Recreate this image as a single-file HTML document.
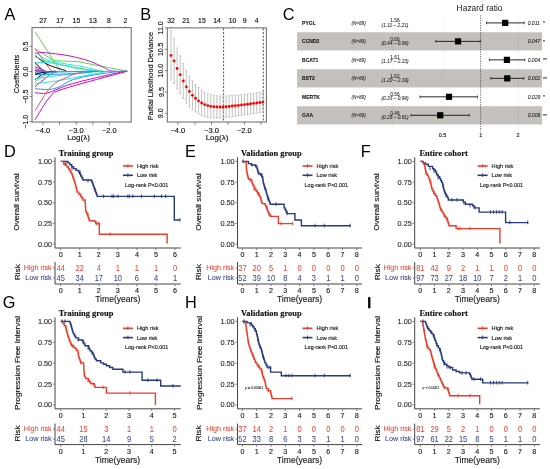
<!DOCTYPE html>
<html><head><meta charset="utf-8"><style>
html,body{margin:0;padding:0;background:#fff;width:550px;height:469px;overflow:hidden;}
svg{display:block;font-family:"Liberation Sans",sans-serif;filter:blur(0.3px);}
</style></head><body><svg width="550" height="469" viewBox="0 0 550 469"><text x="4.45" y="20" font-size="16.3" text-anchor="start" fill="#000" font-weight="normal" font-family="Liberation Sans">A</text><text x="140.3" y="19.9" font-size="16.3" text-anchor="start" fill="#000" font-weight="normal" font-family="Liberation Sans">B</text><text x="282.65" y="20" font-size="16.3" text-anchor="start" fill="#000" font-weight="normal" font-family="Liberation Sans">C</text><path d="M35.01 31.61 L60.06 70.68" stroke="#61D04F" stroke-width="1" fill="none" stroke-linejoin="round"/><path d="M35.01 48.64 L46.03 55.65 L54.04 60.66 L78.09 61.67 L127.19 71.29" stroke="#61D04F" stroke-width="1" fill="none" stroke-linejoin="round"/><path d="M35.01 53.65 L35.6 53.55 L36.27 53.38 L37.07 53.17 L38.01 52.96 L39.15 52.77 L40.5 52.64 L42.12 52.59 L44.02 52.65 L46.34 52.82 L49.07 53.07 L52.12 53.39 L55.36 53.78 L58.69 54.2 L61.99 54.67 L65.16 55.16 L68.07 55.65 L70.81 56.18 L73.5 56.74 L76.14 57.34 L78.72 57.97 L81.21 58.62 L83.62 59.29 L85.92 59.98 L88.11 60.66 L90.19 61.38 L92.18 62.14 L94.08 62.93 L95.88 63.73 L97.58 64.52 L99.2 65.29 L100.72 66.01 L102.14 66.68 L103.44 67.3 L104.61 67.9 L105.67 68.48 L106.65 69.02 L107.56 69.52 L108.43 69.97 L109.29 70.36 L110.16 70.68 L111.04 70.93 L111.94 71.09 L112.82 71.19 L113.66 71.24 L114.44 71.25 L115.14 71.26 L115.72 71.26 L116.17 71.29" stroke="#CD0BBC" stroke-width="1" fill="none" stroke-linejoin="round"/><path d="M35.01 48.64 L51.04 70.68 L52.04 71.29" stroke="#DF536B" stroke-width="1" fill="none" stroke-linejoin="round"/><path d="M35.01 52.65 L36.05 53.28 L37.31 54.14 L38.79 55.16 L40.52 56.28 L42.49 57.45 L44.73 58.61 L47.24 59.7 L50.04 60.66 L53.31 61.52 L57.14 62.34 L61.34 63.13 L65.76 63.88 L70.21 64.61 L74.53 65.32 L78.55 66.01 L82.1 66.68 L85.32 67.35 L88.43 68.04 L91.38 68.71 L94.12 69.36 L96.62 69.96 L98.82 70.49 L100.68 70.94 L102.14 71.29" stroke="#28E2E5" stroke-width="1" fill="none" stroke-linejoin="round"/><path d="M35.01 55.65 L35.98 56.37 L37.23 57.34 L38.72 58.51 L40.39 59.79 L42.21 61.11 L44.12 62.42 L46.08 63.63 L48.03 64.67 L50.17 65.61 L52.61 66.53 L55.22 67.41 L57.86 68.24 L60.41 69 L62.71 69.67 L64.64 70.24 L66.07 70.68" stroke="#000000" stroke-width="1" fill="none" stroke-linejoin="round"/><path d="M35.01 56.66 L36.19 57.11 L37.62 57.71 L39.31 58.43 L41.27 59.22 L43.51 60.08 L46.04 60.95 L48.88 61.83 L52.04 62.67 L55.78 63.53 L60.19 64.48 L65.05 65.46 L70.14 66.45 L75.22 67.4 L80.06 68.29 L84.43 69.06 L88.11 69.68 L91.18 70.15 L93.91 70.5 L96.3 70.75 L98.38 70.92 L100.19 71.04 L101.73 71.12 L103.04 71.2 L104.14 71.29" stroke="#61D04F" stroke-width="1" fill="none" stroke-linejoin="round"/><path d="M35.01 62.67 L36.26 62.66 L37.86 62.62 L39.75 62.56 L41.89 62.52 L44.24 62.52 L46.75 62.59 L49.36 62.77 L52.04 63.07 L54.92 63.54 L58.11 64.18 L61.5 64.92 L65 65.74 L68.51 66.57 L71.93 67.37 L75.16 68.09 L78.09 68.68 L80.85 69.17 L83.59 69.6 L86.24 69.99 L88.74 70.33 L91.04 70.63 L93.08 70.89 L94.79 71.1 L96.13 71.29" stroke="#28E2E5" stroke-width="1" fill="none" stroke-linejoin="round"/><path d="M35.01 62.67 L42.02 69.68 L44.02 71.29" stroke="#000000" stroke-width="1" fill="none" stroke-linejoin="round"/><path d="M35.01 66.68 L46.03 71.29" stroke="#CD0BBC" stroke-width="1" fill="none" stroke-linejoin="round"/><path d="M35.01 68.68 L44.02 71.29" stroke="#2297E6" stroke-width="1" fill="none" stroke-linejoin="round"/><path d="M35.01 79.7 L35.69 79.21 L36.6 78.54 L37.68 77.73 L38.89 76.85 L40.17 75.94 L41.49 75.08 L42.79 74.31 L44.02 73.69 L45.3 73.2 L46.69 72.78 L48.15 72.42 L49.6 72.11 L50.98 71.85 L52.22 71.63 L53.26 71.45 L54.04 71.29" stroke="#000000" stroke-width="1" fill="none" stroke-linejoin="round"/><path d="M35.01 81.71 L35.53 81.32 L36.2 80.82 L36.99 80.21 L37.89 79.54 L38.86 78.82 L39.89 78.09 L40.95 77.38 L42.02 76.7 L43.2 76 L44.55 75.24 L46 74.46 L47.47 73.68 L48.88 72.94 L50.17 72.27 L51.25 71.71 L52.04 71.29" stroke="#61D04F" stroke-width="1" fill="none" stroke-linejoin="round"/><path d="M35.01 86.72 L36.21 85.73 L37.87 84.35 L39.85 82.71 L42.02 80.92 L44.25 79.1 L46.42 77.37 L48.39 75.87 L50.04 74.69 L51.43 73.83 L52.72 73.15 L53.91 72.63 L54.98 72.24 L55.94 71.93 L56.78 71.7 L57.48 71.49 L58.05 71.29" stroke="#CD0BBC" stroke-width="1" fill="none" stroke-linejoin="round"/><path d="M35.01 83.71 L36.76 83.49 L39.08 83.22 L41.83 82.89 L44.9 82.52 L48.18 82.11 L51.54 81.67 L54.87 81.2 L58.05 80.7 L61.18 80.17 L64.4 79.58 L67.69 78.95 L71.02 78.29 L74.35 77.62 L77.66 76.95 L80.92 76.31 L84.1 75.69 L87.37 75.08 L90.82 74.45 L94.33 73.8 L97.76 73.18 L100.98 72.59 L103.88 72.06 L106.31 71.62 L108.15 71.29" stroke="#28E2E5" stroke-width="1" fill="none" stroke-linejoin="round"/><path d="M35.01 88.72 L36.45 88.79 L38.36 88.96 L40.62 89.16 L43.15 89.35 L45.85 89.45 L48.63 89.42 L51.39 89.2 L54.04 88.72 L56.56 87.92 L59.01 86.84 L61.47 85.54 L64 84.11 L66.66 82.63 L69.52 81.19 L72.64 79.85 L76.09 78.7 L80.07 77.69 L84.61 76.72 L89.51 75.79 L94.56 74.93 L99.56 74.14 L104.29 73.43 L108.56 72.81 L112.16 72.29 L115.15 71.9 L117.75 71.63 L120 71.47 L121.93 71.39 L123.58 71.35 L124.98 71.34 L126.17 71.33 L127.19 71.29" stroke="#2297E6" stroke-width="1" fill="none" stroke-linejoin="round"/><path d="M35.01 78.7 L36.67 78.48 L38.75 78.19 L41.21 77.85 L44.02 77.47 L47.15 77.06 L50.55 76.61 L54.2 76.16 L58.05 75.69 L62.52 75.18 L67.81 74.59 L73.6 73.95 L79.53 73.3 L85.29 72.68 L90.53 72.11 L94.92 71.64 L98.13 71.29" stroke="#28E2E5" stroke-width="1" fill="none" stroke-linejoin="round"/><path d="M35.01 92.73 L35.94 92.79 L37.09 92.94 L38.45 93.12 L40.02 93.29 L41.77 93.39 L43.7 93.36 L45.79 93.16 L48.03 92.73 L50.35 92.05 L52.71 91.16 L55.19 90.11 L57.86 88.93 L60.82 87.66 L64.12 86.35 L67.85 85.01 L72.08 83.71 L77.22 82.33 L83.38 80.78 L90.16 79.14 L97.19 77.5 L104.09 75.91 L110.48 74.47 L115.97 73.23 L120.18 72.29 L123.07 71.66 L124.98 71.28 L126.12 71.1 L126.69 71.07 L126.88 71.13 L126.89 71.22 L126.93 71.29 L127.19 71.29" stroke="#CD0BBC" stroke-width="1" fill="none" stroke-linejoin="round"/><path d="M35.01 110.76 L36.24 108.81 L37.86 106.11 L39.8 102.89 L41.96 99.37 L44.25 95.76 L46.58 92.31 L48.88 89.22 L51.04 86.72 L53.13 84.76 L55.25 83.12 L57.4 81.73 L59.56 80.54 L61.71 79.5 L63.86 78.55 L65.98 77.63 L68.07 76.7 L70.23 75.76 L72.53 74.89 L74.86 74.09 L77.15 73.36 L79.31 72.72 L81.25 72.15 L82.87 71.67 L84.1 71.29" stroke="#DF536B" stroke-width="1" fill="none" stroke-linejoin="round"/><path d="M35.01 119.78 L36.17 117.9 L37.73 115.29 L39.59 112.17 L41.64 108.76 L43.81 105.29 L46 101.98 L48.1 99.06 L50.04 96.74 L51.5 95.08 L52.46 93.9 L53.21 93.04 L54.04 92.38 L55.25 91.76 L57.13 91.03 L59.97 90.07 L64.06 88.72 L70.04 86.87 L77.87 84.62 L86.91 82.11 L96.5 79.5 L105.98 76.96 L114.7 74.64 L121.98 72.69 L127.19 71.29" stroke="#CD0BBC" stroke-width="1" fill="none" stroke-linejoin="round"/><path d="M35.01 74.69 L37.94 74.62 L41.93 74.55 L46.68 74.45 L51.91 74.34 L57.36 74.21 L62.72 74.06 L67.72 73.89 L72.08 73.69 L76.04 73.44 L79.98 73.13 L83.8 72.79 L87.42 72.43 L90.76 72.07 L93.71 71.75 L96.2 71.48 L98.13 71.29" stroke="#2297E6" stroke-width="1" fill="none" stroke-linejoin="round"/><path d="M35.01 69.68 L41.02 71.29" stroke="#61D04F" stroke-width="1" fill="none" stroke-linejoin="round"/><path d="M35.01 73.09 L35.98 73.03 L37.07 72.95 L38.35 72.86 L39.89 72.75 L41.76 72.64 L44.02 72.52 L46.76 72.4 L50.04 72.29 L54.29 72.16 L59.64 72.03 L65.69 71.88 L72.02 71.74 L78.23 71.6 L83.92 71.47 L88.69 71.36 L92.12 71.29" stroke="#2297E6" stroke-width="1" fill="none" stroke-linejoin="round"/><path d="M35.01 70.68 L44.02 71.29" stroke="#CD0BBC" stroke-width="1" fill="none" stroke-linejoin="round"/><path d="M35.01 74.29 L35.86 74.09 L37.01 73.82 L38.38 73.49 L39.89 73.13 L41.48 72.76 L43.08 72.42 L44.62 72.12 L46.03 71.89 L47.4 71.72 L48.84 71.6 L50.3 71.5 L51.73 71.44 L53.07 71.39 L54.27 71.35 L55.28 71.32 L56.05 71.29" stroke="#000000" stroke-width="1" fill="none" stroke-linejoin="round"/><path d="M35.01 72.29 L40.02 71.29" stroke="#DF536B" stroke-width="1" fill="none" stroke-linejoin="round"/><path d="M35.01 71.49 L127.19 71.29" stroke="#2297E6" stroke-width="0.7" fill="none"/><rect x="32" y="27.6" width="99.2" height="94.4" fill="none" stroke="#666666" stroke-width="1"/><line x1="43" y1="27.6" x2="43" y2="26.3" stroke="#666666" stroke-width="0.8"/><text x="0" y="0" font-size="7.3" text-anchor="middle" fill="#111" font-weight="normal" font-family="Liberation Sans" transform="translate(43 23.4) scale(0.94 1)" stroke="#111" stroke-width="0.15">27</text><line x1="60" y1="27.6" x2="60" y2="26.3" stroke="#666666" stroke-width="0.8"/><text x="0" y="0" font-size="7.3" text-anchor="middle" fill="#111" font-weight="normal" font-family="Liberation Sans" transform="translate(60 23.4) scale(0.94 1)" stroke="#111" stroke-width="0.15">17</text><line x1="76.4" y1="27.6" x2="76.4" y2="26.3" stroke="#666666" stroke-width="0.8"/><text x="0" y="0" font-size="7.3" text-anchor="middle" fill="#111" font-weight="normal" font-family="Liberation Sans" transform="translate(76.4 23.4) scale(0.94 1)" stroke="#111" stroke-width="0.15">15</text><line x1="92.9" y1="27.6" x2="92.9" y2="26.3" stroke="#666666" stroke-width="0.8"/><text x="0" y="0" font-size="7.3" text-anchor="middle" fill="#111" font-weight="normal" font-family="Liberation Sans" transform="translate(92.9 23.4) scale(0.94 1)" stroke="#111" stroke-width="0.15">13</text><line x1="108.9" y1="27.6" x2="108.9" y2="26.3" stroke="#666666" stroke-width="0.8"/><text x="0" y="0" font-size="7.3" text-anchor="middle" fill="#111" font-weight="normal" font-family="Liberation Sans" transform="translate(108.9 23.4) scale(0.94 1)" stroke="#111" stroke-width="0.15">8</text><line x1="125.4" y1="27.6" x2="125.4" y2="26.3" stroke="#666666" stroke-width="0.8"/><text x="0" y="0" font-size="7.3" text-anchor="middle" fill="#111" font-weight="normal" font-family="Liberation Sans" transform="translate(125.4 23.4) scale(0.94 1)" stroke="#111" stroke-width="0.15">2</text><line x1="32" y1="46.4" x2="29.5" y2="46.4" stroke="#666666" stroke-width="0.8"/><text x="27.6" y="46.4" font-size="7" text-anchor="middle" fill="#111" font-weight="normal" font-family="Liberation Sans" transform="rotate(-90 27.6 46.4)" stroke="#111" stroke-width="0.15">0.5</text><line x1="32" y1="71.5" x2="29.5" y2="71.5" stroke="#666666" stroke-width="0.8"/><text x="27.6" y="71.5" font-size="7" text-anchor="middle" fill="#111" font-weight="normal" font-family="Liberation Sans" transform="rotate(-90 27.6 71.5)" stroke="#111" stroke-width="0.15">0.0</text><line x1="32" y1="96.6" x2="29.5" y2="96.6" stroke="#666666" stroke-width="0.8"/><text x="27.6" y="96.6" font-size="7" text-anchor="middle" fill="#111" font-weight="normal" font-family="Liberation Sans" transform="rotate(-90 27.6 96.6)" stroke="#111" stroke-width="0.15">−0.5</text><line x1="32" y1="121.7" x2="29.5" y2="121.7" stroke="#666666" stroke-width="0.8"/><text x="27.6" y="121.7" font-size="7" text-anchor="middle" fill="#111" font-weight="normal" font-family="Liberation Sans" transform="rotate(-90 27.6 121.7)" stroke="#111" stroke-width="0.15">−1.0</text><line x1="42.9" y1="122" x2="42.9" y2="124.8" stroke="#666666" stroke-width="0.8"/><line x1="59.5" y1="122" x2="59.5" y2="124.8" stroke="#666666" stroke-width="0.8"/><line x1="76.2" y1="122" x2="76.2" y2="124.8" stroke="#666666" stroke-width="0.8"/><line x1="92.8" y1="122" x2="92.8" y2="124.8" stroke="#666666" stroke-width="0.8"/><line x1="109.4" y1="122" x2="109.4" y2="124.8" stroke="#666666" stroke-width="0.8"/><text x="42.9" y="132.7" font-size="7.5" text-anchor="middle" fill="#111" font-weight="normal" font-family="Liberation Sans" stroke="#111" stroke-width="0.15">−4.0</text><text x="76.2" y="132.7" font-size="7.5" text-anchor="middle" fill="#111" font-weight="normal" font-family="Liberation Sans" stroke="#111" stroke-width="0.15">−3.0</text><text x="109.4" y="132.7" font-size="7.5" text-anchor="middle" fill="#111" font-weight="normal" font-family="Liberation Sans" stroke="#111" stroke-width="0.15">−2.0</text><text x="78.5" y="140.3" font-size="8" text-anchor="middle" fill="#111" font-weight="normal" font-family="Liberation Sans" stroke="#111" stroke-width="0.15">Log(λ)</text><text x="18.6" y="74" font-size="7.4" text-anchor="middle" fill="#111" font-weight="normal" font-family="Liberation Sans" transform="rotate(-90 18.6 74)" stroke="#111" stroke-width="0.15">Coefficients</text><rect x="167.3" y="27.9" width="99.1" height="94.1" fill="none" stroke="#666666" stroke-width="1"/><line x1="171" y1="27.9" x2="171" y2="26.9" stroke="#666666" stroke-width="0.7"/><text x="0" y="0" font-size="7.3" text-anchor="middle" fill="#111" font-weight="normal" font-family="Liberation Sans" transform="translate(171 23.4) scale(0.94 1)" stroke="#111" stroke-width="0.15">32</text><line x1="186.1" y1="27.9" x2="186.1" y2="26.9" stroke="#666666" stroke-width="0.7"/><text x="0" y="0" font-size="7.3" text-anchor="middle" fill="#111" font-weight="normal" font-family="Liberation Sans" transform="translate(186.1 23.4) scale(0.94 1)" stroke="#111" stroke-width="0.15">21</text><line x1="201.9" y1="27.9" x2="201.9" y2="26.9" stroke="#666666" stroke-width="0.7"/><text x="0" y="0" font-size="7.3" text-anchor="middle" fill="#111" font-weight="normal" font-family="Liberation Sans" transform="translate(201.9 23.4) scale(0.94 1)" stroke="#111" stroke-width="0.15">15</text><line x1="217.1" y1="27.9" x2="217.1" y2="26.9" stroke="#666666" stroke-width="0.7"/><text x="0" y="0" font-size="7.3" text-anchor="middle" fill="#111" font-weight="normal" font-family="Liberation Sans" transform="translate(217.1 23.4) scale(0.94 1)" stroke="#111" stroke-width="0.15">14</text><line x1="232.6" y1="27.9" x2="232.6" y2="26.9" stroke="#666666" stroke-width="0.7"/><text x="0" y="0" font-size="7.3" text-anchor="middle" fill="#111" font-weight="normal" font-family="Liberation Sans" transform="translate(232.6 23.4) scale(0.94 1)" stroke="#111" stroke-width="0.15">10</text><line x1="244.6" y1="27.9" x2="244.6" y2="26.9" stroke="#666666" stroke-width="0.7"/><text x="0" y="0" font-size="7.3" text-anchor="middle" fill="#111" font-weight="normal" font-family="Liberation Sans" transform="translate(244.6 23.4) scale(0.94 1)" stroke="#111" stroke-width="0.15">9</text><line x1="256.7" y1="27.9" x2="256.7" y2="26.9" stroke="#666666" stroke-width="0.7"/><text x="0" y="0" font-size="7.3" text-anchor="middle" fill="#111" font-weight="normal" font-family="Liberation Sans" transform="translate(256.7 23.4) scale(0.94 1)" stroke="#111" stroke-width="0.15">4</text><line x1="167.3" y1="27.9" x2="164.8" y2="27.9" stroke="#666666" stroke-width="0.8"/><text x="163.5" y="27.9" font-size="7" text-anchor="middle" fill="#111" font-weight="normal" font-family="Liberation Sans" transform="rotate(-90 163.5 27.9)" stroke="#111" stroke-width="0.15">11.0</text><line x1="167.3" y1="49.3" x2="164.8" y2="49.3" stroke="#666666" stroke-width="0.8"/><text x="163.5" y="49.3" font-size="7" text-anchor="middle" fill="#111" font-weight="normal" font-family="Liberation Sans" transform="rotate(-90 163.5 49.3)" stroke="#111" stroke-width="0.15">10.5</text><line x1="167.3" y1="70.6" x2="164.8" y2="70.6" stroke="#666666" stroke-width="0.8"/><text x="163.5" y="70.6" font-size="7" text-anchor="middle" fill="#111" font-weight="normal" font-family="Liberation Sans" transform="rotate(-90 163.5 70.6)" stroke="#111" stroke-width="0.15">10.0</text><line x1="167.3" y1="92" x2="164.8" y2="92" stroke="#666666" stroke-width="0.8"/><text x="163.5" y="92" font-size="7" text-anchor="middle" fill="#111" font-weight="normal" font-family="Liberation Sans" transform="rotate(-90 163.5 92)" stroke="#111" stroke-width="0.15">9.5</text><line x1="167.3" y1="113.3" x2="164.8" y2="113.3" stroke="#666666" stroke-width="0.8"/><text x="163.5" y="113.3" font-size="7" text-anchor="middle" fill="#111" font-weight="normal" font-family="Liberation Sans" transform="rotate(-90 163.5 113.3)" stroke="#111" stroke-width="0.15">9.0</text><line x1="177.9" y1="122" x2="177.9" y2="124.8" stroke="#666666" stroke-width="0.8"/><line x1="195.1" y1="122" x2="195.1" y2="124.8" stroke="#666666" stroke-width="0.8"/><line x1="211.5" y1="122" x2="211.5" y2="124.8" stroke="#666666" stroke-width="0.8"/><line x1="228" y1="122" x2="228" y2="124.8" stroke="#666666" stroke-width="0.8"/><line x1="244.4" y1="122" x2="244.4" y2="124.8" stroke="#666666" stroke-width="0.8"/><line x1="261" y1="122" x2="261" y2="124.8" stroke="#666666" stroke-width="0.8"/><text x="177.9" y="132.7" font-size="7.5" text-anchor="middle" fill="#111" font-weight="normal" font-family="Liberation Sans" stroke="#111" stroke-width="0.15">−4.0</text><text x="211.5" y="132.7" font-size="7.5" text-anchor="middle" fill="#111" font-weight="normal" font-family="Liberation Sans" stroke="#111" stroke-width="0.15">−3.0</text><text x="244.4" y="132.7" font-size="7.5" text-anchor="middle" fill="#111" font-weight="normal" font-family="Liberation Sans" stroke="#111" stroke-width="0.15">−2.0</text><text x="217" y="140.3" font-size="8" text-anchor="middle" fill="#111" font-weight="normal" font-family="Liberation Sans" stroke="#111" stroke-width="0.15">Log(λ)</text><text x="152.6" y="76" font-size="7.3" text-anchor="middle" fill="#111" font-weight="normal" font-family="Liberation Sans" transform="rotate(-90 152.6 76)" stroke="#111" stroke-width="0.15">Partial Likelihood Deviance</text><path d="M223.6 28.4 V121.6" stroke="#222" stroke-width="0.8" fill="none" stroke-dasharray="2 1.6"/><path d="M263.3 28.4 V121.6" stroke="#222" stroke-width="0.8" fill="none" stroke-dasharray="2 1.6"/><line x1="171" y1="30.7" x2="171" y2="80.1" stroke="#b3b3b3" stroke-width="0.8"/><line x1="169.9" y1="30.7" x2="172.1" y2="30.7" stroke="#b3b3b3" stroke-width="0.7"/><line x1="169.9" y1="80.1" x2="172.1" y2="80.1" stroke="#b3b3b3" stroke-width="0.7"/><line x1="174.06" y1="38.57" x2="174.06" y2="83.37" stroke="#b3b3b3" stroke-width="0.8"/><line x1="172.96" y1="38.57" x2="175.16" y2="38.57" stroke="#b3b3b3" stroke-width="0.7"/><line x1="172.96" y1="83.37" x2="175.16" y2="83.37" stroke="#b3b3b3" stroke-width="0.7"/><line x1="177.13" y1="47.99" x2="177.13" y2="88.91" stroke="#b3b3b3" stroke-width="0.8"/><line x1="176.03" y1="47.99" x2="178.23" y2="47.99" stroke="#b3b3b3" stroke-width="0.7"/><line x1="176.03" y1="88.91" x2="178.23" y2="88.91" stroke="#b3b3b3" stroke-width="0.7"/><line x1="180.19" y1="55.85" x2="180.19" y2="93.5" stroke="#b3b3b3" stroke-width="0.8"/><line x1="179.09" y1="55.85" x2="181.29" y2="55.85" stroke="#b3b3b3" stroke-width="0.7"/><line x1="179.09" y1="93.5" x2="181.29" y2="93.5" stroke="#b3b3b3" stroke-width="0.7"/><line x1="183.25" y1="63.56" x2="183.25" y2="98.44" stroke="#b3b3b3" stroke-width="0.8"/><line x1="182.15" y1="63.56" x2="184.35" y2="63.56" stroke="#b3b3b3" stroke-width="0.7"/><line x1="182.15" y1="98.44" x2="184.35" y2="98.44" stroke="#b3b3b3" stroke-width="0.7"/><line x1="186.32" y1="70.56" x2="186.32" y2="103.12" stroke="#b3b3b3" stroke-width="0.8"/><line x1="185.22" y1="70.56" x2="187.42" y2="70.56" stroke="#b3b3b3" stroke-width="0.7"/><line x1="185.22" y1="103.12" x2="187.42" y2="103.12" stroke="#b3b3b3" stroke-width="0.7"/><line x1="189.38" y1="76.27" x2="189.38" y2="106.86" stroke="#b3b3b3" stroke-width="0.8"/><line x1="188.28" y1="76.27" x2="190.48" y2="76.27" stroke="#b3b3b3" stroke-width="0.7"/><line x1="188.28" y1="106.86" x2="190.48" y2="106.86" stroke="#b3b3b3" stroke-width="0.7"/><line x1="192.44" y1="80.88" x2="192.44" y2="109.81" stroke="#b3b3b3" stroke-width="0.8"/><line x1="191.34" y1="80.88" x2="193.54" y2="80.88" stroke="#b3b3b3" stroke-width="0.7"/><line x1="191.34" y1="109.81" x2="193.54" y2="109.81" stroke="#b3b3b3" stroke-width="0.7"/><line x1="195.51" y1="84.54" x2="195.51" y2="112.08" stroke="#b3b3b3" stroke-width="0.8"/><line x1="194.41" y1="84.54" x2="196.61" y2="84.54" stroke="#b3b3b3" stroke-width="0.7"/><line x1="194.41" y1="112.08" x2="196.61" y2="112.08" stroke="#b3b3b3" stroke-width="0.7"/><line x1="198.57" y1="87.71" x2="198.57" y2="114.07" stroke="#b3b3b3" stroke-width="0.8"/><line x1="197.47" y1="87.71" x2="199.67" y2="87.71" stroke="#b3b3b3" stroke-width="0.7"/><line x1="197.47" y1="114.07" x2="199.67" y2="114.07" stroke="#b3b3b3" stroke-width="0.7"/><line x1="201.63" y1="90.34" x2="201.63" y2="115.7" stroke="#b3b3b3" stroke-width="0.8"/><line x1="200.53" y1="90.34" x2="202.73" y2="90.34" stroke="#b3b3b3" stroke-width="0.7"/><line x1="200.53" y1="115.7" x2="202.73" y2="115.7" stroke="#b3b3b3" stroke-width="0.7"/><line x1="204.7" y1="92.37" x2="204.7" y2="116.89" stroke="#b3b3b3" stroke-width="0.8"/><line x1="203.6" y1="92.37" x2="205.8" y2="92.37" stroke="#b3b3b3" stroke-width="0.7"/><line x1="203.6" y1="116.89" x2="205.8" y2="116.89" stroke="#b3b3b3" stroke-width="0.7"/><line x1="207.76" y1="93.71" x2="207.76" y2="117.52" stroke="#b3b3b3" stroke-width="0.8"/><line x1="206.66" y1="93.71" x2="208.86" y2="93.71" stroke="#b3b3b3" stroke-width="0.7"/><line x1="206.66" y1="117.52" x2="208.86" y2="117.52" stroke="#b3b3b3" stroke-width="0.7"/><line x1="210.82" y1="94.72" x2="210.82" y2="117.94" stroke="#b3b3b3" stroke-width="0.8"/><line x1="209.72" y1="94.72" x2="211.92" y2="94.72" stroke="#b3b3b3" stroke-width="0.7"/><line x1="209.72" y1="117.94" x2="211.92" y2="117.94" stroke="#b3b3b3" stroke-width="0.7"/><line x1="213.89" y1="95.39" x2="213.89" y2="118.11" stroke="#b3b3b3" stroke-width="0.8"/><line x1="212.79" y1="95.39" x2="214.99" y2="95.39" stroke="#b3b3b3" stroke-width="0.7"/><line x1="212.79" y1="118.11" x2="214.99" y2="118.11" stroke="#b3b3b3" stroke-width="0.7"/><line x1="216.95" y1="95.81" x2="216.95" y2="118.1" stroke="#b3b3b3" stroke-width="0.8"/><line x1="215.85" y1="95.81" x2="218.05" y2="95.81" stroke="#b3b3b3" stroke-width="0.7"/><line x1="215.85" y1="118.1" x2="218.05" y2="118.1" stroke="#b3b3b3" stroke-width="0.7"/><line x1="220.01" y1="96.08" x2="220.01" y2="118.01" stroke="#b3b3b3" stroke-width="0.8"/><line x1="218.91" y1="96.08" x2="221.11" y2="96.08" stroke="#b3b3b3" stroke-width="0.7"/><line x1="218.91" y1="118.01" x2="221.11" y2="118.01" stroke="#b3b3b3" stroke-width="0.7"/><line x1="223.08" y1="96.18" x2="223.08" y2="117.81" stroke="#b3b3b3" stroke-width="0.8"/><line x1="221.98" y1="96.18" x2="224.18" y2="96.18" stroke="#b3b3b3" stroke-width="0.7"/><line x1="221.98" y1="117.81" x2="224.18" y2="117.81" stroke="#b3b3b3" stroke-width="0.7"/><line x1="226.14" y1="96" x2="226.14" y2="117.37" stroke="#b3b3b3" stroke-width="0.8"/><line x1="225.04" y1="96" x2="227.24" y2="96" stroke="#b3b3b3" stroke-width="0.7"/><line x1="225.04" y1="117.37" x2="227.24" y2="117.37" stroke="#b3b3b3" stroke-width="0.7"/><line x1="229.2" y1="95.8" x2="229.2" y2="116.96" stroke="#b3b3b3" stroke-width="0.8"/><line x1="228.1" y1="95.8" x2="230.3" y2="95.8" stroke="#b3b3b3" stroke-width="0.7"/><line x1="228.1" y1="116.96" x2="230.3" y2="116.96" stroke="#b3b3b3" stroke-width="0.7"/><line x1="232.27" y1="95.56" x2="232.27" y2="116.54" stroke="#b3b3b3" stroke-width="0.8"/><line x1="231.17" y1="95.56" x2="233.37" y2="95.56" stroke="#b3b3b3" stroke-width="0.7"/><line x1="231.17" y1="116.54" x2="233.37" y2="116.54" stroke="#b3b3b3" stroke-width="0.7"/><line x1="235.33" y1="95.3" x2="235.33" y2="116.13" stroke="#b3b3b3" stroke-width="0.8"/><line x1="234.23" y1="95.3" x2="236.43" y2="95.3" stroke="#b3b3b3" stroke-width="0.7"/><line x1="234.23" y1="116.13" x2="236.43" y2="116.13" stroke="#b3b3b3" stroke-width="0.7"/><line x1="238.39" y1="95.03" x2="238.39" y2="115.72" stroke="#b3b3b3" stroke-width="0.8"/><line x1="237.29" y1="95.03" x2="239.49" y2="95.03" stroke="#b3b3b3" stroke-width="0.7"/><line x1="237.29" y1="115.72" x2="239.49" y2="115.72" stroke="#b3b3b3" stroke-width="0.7"/><line x1="241.46" y1="94.72" x2="241.46" y2="115.3" stroke="#b3b3b3" stroke-width="0.8"/><line x1="240.36" y1="94.72" x2="242.56" y2="94.72" stroke="#b3b3b3" stroke-width="0.7"/><line x1="240.36" y1="115.3" x2="242.56" y2="115.3" stroke="#b3b3b3" stroke-width="0.7"/><line x1="244.52" y1="94.36" x2="244.52" y2="114.86" stroke="#b3b3b3" stroke-width="0.8"/><line x1="243.42" y1="94.36" x2="245.62" y2="94.36" stroke="#b3b3b3" stroke-width="0.7"/><line x1="243.42" y1="114.86" x2="245.62" y2="114.86" stroke="#b3b3b3" stroke-width="0.7"/><line x1="247.58" y1="94.01" x2="247.58" y2="114.42" stroke="#b3b3b3" stroke-width="0.8"/><line x1="246.48" y1="94.01" x2="248.68" y2="94.01" stroke="#b3b3b3" stroke-width="0.7"/><line x1="246.48" y1="114.42" x2="248.68" y2="114.42" stroke="#b3b3b3" stroke-width="0.7"/><line x1="250.65" y1="93.63" x2="250.65" y2="113.99" stroke="#b3b3b3" stroke-width="0.8"/><line x1="249.55" y1="93.63" x2="251.75" y2="93.63" stroke="#b3b3b3" stroke-width="0.7"/><line x1="249.55" y1="113.99" x2="251.75" y2="113.99" stroke="#b3b3b3" stroke-width="0.7"/><line x1="253.71" y1="93.23" x2="253.71" y2="113.53" stroke="#b3b3b3" stroke-width="0.8"/><line x1="252.61" y1="93.23" x2="254.81" y2="93.23" stroke="#b3b3b3" stroke-width="0.7"/><line x1="252.61" y1="113.53" x2="254.81" y2="113.53" stroke="#b3b3b3" stroke-width="0.7"/><line x1="256.77" y1="92.83" x2="256.77" y2="113.08" stroke="#b3b3b3" stroke-width="0.8"/><line x1="255.67" y1="92.83" x2="257.87" y2="92.83" stroke="#b3b3b3" stroke-width="0.7"/><line x1="255.67" y1="113.08" x2="257.87" y2="113.08" stroke="#b3b3b3" stroke-width="0.7"/><line x1="259.84" y1="92.42" x2="259.84" y2="112.63" stroke="#b3b3b3" stroke-width="0.8"/><line x1="258.74" y1="92.42" x2="260.94" y2="92.42" stroke="#b3b3b3" stroke-width="0.7"/><line x1="258.74" y1="112.63" x2="260.94" y2="112.63" stroke="#b3b3b3" stroke-width="0.7"/><line x1="262.9" y1="92.01" x2="262.9" y2="112.19" stroke="#b3b3b3" stroke-width="0.8"/><line x1="261.8" y1="92.01" x2="264" y2="92.01" stroke="#b3b3b3" stroke-width="0.7"/><line x1="261.8" y1="112.19" x2="264" y2="112.19" stroke="#b3b3b3" stroke-width="0.7"/><circle cx="171" cy="55.4" r="1.45" fill="#FF0000"/><circle cx="174.06" cy="60.97" r="1.45" fill="#FF0000"/><circle cx="177.13" cy="68.45" r="1.45" fill="#FF0000"/><circle cx="180.19" cy="74.67" r="1.45" fill="#FF0000"/><circle cx="183.25" cy="81" r="1.45" fill="#FF0000"/><circle cx="186.32" cy="86.84" r="1.45" fill="#FF0000"/><circle cx="189.38" cy="91.57" r="1.45" fill="#FF0000"/><circle cx="192.44" cy="95.34" r="1.45" fill="#FF0000"/><circle cx="195.51" cy="98.31" r="1.45" fill="#FF0000"/><circle cx="198.57" cy="100.89" r="1.45" fill="#FF0000"/><circle cx="201.63" cy="103.02" r="1.45" fill="#FF0000"/><circle cx="204.7" cy="104.63" r="1.45" fill="#FF0000"/><circle cx="207.76" cy="105.61" r="1.45" fill="#FF0000"/><circle cx="210.82" cy="106.33" r="1.45" fill="#FF0000"/><circle cx="213.89" cy="106.75" r="1.45" fill="#FF0000"/><circle cx="216.95" cy="106.96" r="1.45" fill="#FF0000"/><circle cx="220.01" cy="107.04" r="1.45" fill="#FF0000"/><circle cx="223.08" cy="106.99" r="1.45" fill="#FF0000"/><circle cx="226.14" cy="106.69" r="1.45" fill="#FF0000"/><circle cx="229.2" cy="106.38" r="1.45" fill="#FF0000"/><circle cx="232.27" cy="106.05" r="1.45" fill="#FF0000"/><circle cx="235.33" cy="105.71" r="1.45" fill="#FF0000"/><circle cx="238.39" cy="105.38" r="1.45" fill="#FF0000"/><circle cx="241.46" cy="105.01" r="1.45" fill="#FF0000"/><circle cx="244.52" cy="104.61" r="1.45" fill="#FF0000"/><circle cx="247.58" cy="104.21" r="1.45" fill="#FF0000"/><circle cx="250.65" cy="103.81" r="1.45" fill="#FF0000"/><circle cx="253.71" cy="103.38" r="1.45" fill="#FF0000"/><circle cx="256.77" cy="102.95" r="1.45" fill="#FF0000"/><circle cx="259.84" cy="102.53" r="1.45" fill="#FF0000"/><circle cx="262.9" cy="102.1" r="1.45" fill="#FF0000"/><rect x="297.1" y="32.28" width="244.9" height="18.2" fill="#c4c0bc" stroke="none" stroke-width="1"/><rect x="297.1" y="69.24" width="244.9" height="18.2" fill="#c4c0bc" stroke="none" stroke-width="1"/><rect x="297.1" y="106.2" width="244.9" height="18.2" fill="#c4c0bc" stroke="none" stroke-width="1"/><line x1="354.3" y1="14" x2="354.3" y2="130.5" stroke="#000" stroke-width="0.5" stroke-opacity="0.07"/><line x1="392.9" y1="14" x2="392.9" y2="130.5" stroke="#000" stroke-width="0.5" stroke-opacity="0.07"/><line x1="443.1" y1="14" x2="443.1" y2="130.5" stroke="#000" stroke-width="0.5" stroke-opacity="0.07"/><line x1="518.4" y1="14" x2="518.4" y2="130.5" stroke="#000" stroke-width="0.5" stroke-opacity="0.07"/><path d="M480.6 15.3 V131.5" stroke="#444" stroke-width="0.8" fill="none" stroke-dasharray="1.2 1.2"/><text x="302.1" y="24.7" font-size="5" text-anchor="start" fill="#111" font-weight="bold" font-family="Liberation Sans" stroke="#111" stroke-width="0.07">PYGL</text><text x="358.6" y="24.6" font-size="4.6" text-anchor="middle" fill="#222" font-weight="normal" font-family="Liberation Sans" font-style="italic" stroke="#222" stroke-width="0.07">(N=89)</text><text x="395" y="22.2" font-size="4.8" text-anchor="middle" fill="#222" font-weight="normal" font-family="Liberation Sans" stroke="#222" stroke-width="0.07">1.56</text><text x="395" y="26.5" font-size="4.8" text-anchor="middle" fill="#222" font-weight="normal" font-family="Liberation Sans" font-style="italic" stroke="#222" stroke-width="0.07">(1.11 – 2.21)</text><line x1="486.52" y1="22.9" x2="524.27" y2="22.9" stroke="#111" stroke-width="0.9"/><line x1="486.52" y1="21.5" x2="486.52" y2="24.3" stroke="#111" stroke-width="0.7"/><line x1="524.27" y1="21.5" x2="524.27" y2="24.3" stroke="#111" stroke-width="0.7"/><rect x="502.08" y="19.8" width="6.2" height="6.2" fill="#000" stroke="none" stroke-width="1"/><text x="527.7" y="24.7" font-size="5" text-anchor="start" fill="#222" font-weight="normal" font-family="Liberation Sans" font-style="italic" stroke="#222" stroke-width="0.07">0.011</text><text x="543" y="25.2" font-size="5" text-anchor="start" fill="#222" font-weight="normal" font-family="Liberation Sans" stroke="#222" stroke-width="0.07">*</text><text x="302.1" y="43.18" font-size="5" text-anchor="start" fill="#111" font-weight="bold" font-family="Liberation Sans" stroke="#111" stroke-width="0.07">CCND2</text><text x="358.6" y="43.08" font-size="4.6" text-anchor="middle" fill="#222" font-weight="normal" font-family="Liberation Sans" font-style="italic" stroke="#222" stroke-width="0.07">(N=89)</text><text x="395" y="40.68" font-size="4.8" text-anchor="middle" fill="#222" font-weight="normal" font-family="Liberation Sans" stroke="#222" stroke-width="0.07">0.66</text><text x="395" y="44.98" font-size="4.8" text-anchor="middle" fill="#222" font-weight="normal" font-family="Liberation Sans" font-style="italic" stroke="#222" stroke-width="0.07">(0.44 – 0.99)</text><line x1="435.79" y1="41.38" x2="480.25" y2="41.38" stroke="#111" stroke-width="0.9"/><line x1="435.79" y1="39.98" x2="435.79" y2="42.78" stroke="#111" stroke-width="0.7"/><line x1="480.25" y1="39.98" x2="480.25" y2="42.78" stroke="#111" stroke-width="0.7"/><rect x="454.92" y="38.28" width="6.2" height="6.2" fill="#000" stroke="none" stroke-width="1"/><text x="527.7" y="43.18" font-size="5" text-anchor="start" fill="#222" font-weight="normal" font-family="Liberation Sans" font-style="italic" stroke="#222" stroke-width="0.07">0.047</text><text x="543" y="43.68" font-size="5" text-anchor="start" fill="#222" font-weight="normal" font-family="Liberation Sans" stroke="#222" stroke-width="0.07">*</text><text x="302.1" y="61.66" font-size="5" text-anchor="start" fill="#111" font-weight="bold" font-family="Liberation Sans" stroke="#111" stroke-width="0.07">BCAT1</text><text x="358.6" y="61.56" font-size="4.6" text-anchor="middle" fill="#222" font-weight="normal" font-family="Liberation Sans" font-style="italic" stroke="#222" stroke-width="0.07">(N=89)</text><text x="395" y="59.16" font-size="4.8" text-anchor="middle" fill="#222" font-weight="normal" font-family="Liberation Sans" stroke="#222" stroke-width="0.07">1.61</text><text x="395" y="63.46" font-size="4.8" text-anchor="middle" fill="#222" font-weight="normal" font-family="Liberation Sans" font-style="italic" stroke="#222" stroke-width="0.07">(1.17 – 2.23)</text><line x1="489.41" y1="59.86" x2="524.77" y2="59.86" stroke="#111" stroke-width="0.9"/><line x1="489.41" y1="58.46" x2="489.41" y2="61.26" stroke="#111" stroke-width="0.7"/><line x1="524.77" y1="58.46" x2="524.77" y2="61.26" stroke="#111" stroke-width="0.7"/><rect x="503.81" y="56.76" width="6.2" height="6.2" fill="#000" stroke="none" stroke-width="1"/><text x="527.7" y="61.66" font-size="5" text-anchor="start" fill="#222" font-weight="normal" font-family="Liberation Sans" font-style="italic" stroke="#222" stroke-width="0.07">0.004</text><text x="543" y="62.16" font-size="5" text-anchor="start" fill="#222" font-weight="normal" font-family="Liberation Sans" stroke="#222" stroke-width="0.07">**</text><text x="302.1" y="80.14" font-size="5" text-anchor="start" fill="#111" font-weight="bold" font-family="Liberation Sans" stroke="#111" stroke-width="0.07">BST2</text><text x="358.6" y="80.04" font-size="4.6" text-anchor="middle" fill="#222" font-weight="normal" font-family="Liberation Sans" font-style="italic" stroke="#222" stroke-width="0.07">(N=89)</text><text x="395" y="77.64" font-size="4.8" text-anchor="middle" fill="#222" font-weight="normal" font-family="Liberation Sans" stroke="#222" stroke-width="0.07">1.62</text><text x="395" y="81.94" font-size="4.8" text-anchor="middle" fill="#222" font-weight="normal" font-family="Liberation Sans" font-style="italic" stroke="#222" stroke-width="0.07">(1.20 – 2.19)</text><line x1="490.8" y1="78.34" x2="523.78" y2="78.34" stroke="#111" stroke-width="0.9"/><line x1="490.8" y1="76.94" x2="490.8" y2="79.74" stroke="#111" stroke-width="0.7"/><line x1="523.78" y1="76.94" x2="523.78" y2="79.74" stroke="#111" stroke-width="0.7"/><rect x="504.15" y="75.24" width="6.2" height="6.2" fill="#000" stroke="none" stroke-width="1"/><text x="527.7" y="80.14" font-size="5" text-anchor="start" fill="#222" font-weight="normal" font-family="Liberation Sans" font-style="italic" stroke="#222" stroke-width="0.07">0.002</text><text x="543" y="80.64" font-size="5" text-anchor="start" fill="#222" font-weight="normal" font-family="Liberation Sans" stroke="#222" stroke-width="0.07">**</text><text x="302.1" y="98.62" font-size="5" text-anchor="start" fill="#111" font-weight="bold" font-family="Liberation Sans" stroke="#111" stroke-width="0.07">MERTK</text><text x="358.6" y="98.52" font-size="4.6" text-anchor="middle" fill="#222" font-weight="normal" font-family="Liberation Sans" font-style="italic" stroke="#222" stroke-width="0.07">(N=89)</text><text x="395" y="96.12" font-size="4.8" text-anchor="middle" fill="#222" font-weight="normal" font-family="Liberation Sans" stroke="#222" stroke-width="0.07">0.56</text><text x="395" y="100.42" font-size="4.8" text-anchor="middle" fill="#222" font-weight="normal" font-family="Liberation Sans" font-style="italic" stroke="#222" stroke-width="0.07">(0.33 – 0.94)</text><line x1="420.02" y1="96.82" x2="477.41" y2="96.82" stroke="#111" stroke-width="0.9"/><line x1="420.02" y1="95.42" x2="420.02" y2="98.22" stroke="#111" stroke-width="0.7"/><line x1="477.41" y1="95.42" x2="477.41" y2="98.22" stroke="#111" stroke-width="0.7"/><rect x="445.91" y="93.72" width="6.2" height="6.2" fill="#000" stroke="none" stroke-width="1"/><text x="527.7" y="98.62" font-size="5" text-anchor="start" fill="#222" font-weight="normal" font-family="Liberation Sans" font-style="italic" stroke="#222" stroke-width="0.07">0.029</text><text x="543" y="99.12" font-size="5" text-anchor="start" fill="#222" font-weight="normal" font-family="Liberation Sans" stroke="#222" stroke-width="0.07">*</text><text x="302.1" y="117.1" font-size="5" text-anchor="start" fill="#111" font-weight="bold" font-family="Liberation Sans" stroke="#111" stroke-width="0.07">GAA</text><text x="358.6" y="117" font-size="4.6" text-anchor="middle" fill="#222" font-weight="normal" font-family="Liberation Sans" font-style="italic" stroke="#222" stroke-width="0.07">(N=89)</text><text x="395" y="114.6" font-size="4.8" text-anchor="middle" fill="#222" font-weight="normal" font-family="Liberation Sans" stroke="#222" stroke-width="0.07">0.46</text><text x="395" y="118.9" font-size="4.8" text-anchor="middle" fill="#222" font-weight="normal" font-family="Liberation Sans" font-style="italic" stroke="#222" stroke-width="0.07">(0.28 – 0.81)</text><line x1="411.01" y1="115.3" x2="469.25" y2="115.3" stroke="#111" stroke-width="0.9"/><line x1="411.01" y1="113.9" x2="411.01" y2="116.7" stroke="#111" stroke-width="0.7"/><line x1="469.25" y1="113.9" x2="469.25" y2="116.7" stroke="#111" stroke-width="0.7"/><rect x="437.1" y="112.2" width="6.2" height="6.2" fill="#000" stroke="none" stroke-width="1"/><text x="527.7" y="117.1" font-size="5" text-anchor="start" fill="#222" font-weight="normal" font-family="Liberation Sans" font-style="italic" stroke="#222" stroke-width="0.07">0.006</text><text x="543" y="117.6" font-size="5" text-anchor="start" fill="#222" font-weight="normal" font-family="Liberation Sans" stroke="#222" stroke-width="0.07">**</text><text x="456.6" y="11" font-size="8.45" text-anchor="start" fill="#1a1a1a" font-weight="normal" font-family="Liberation Sans">Hazard ratio</text><text x="442.5" y="137.1" font-size="5.4" text-anchor="middle" fill="#222" font-weight="normal" font-family="Liberation Sans" stroke="#222" stroke-width="0.15">0.5</text><text x="480.8" y="137.1" font-size="5.4" text-anchor="middle" fill="#222" font-weight="normal" font-family="Liberation Sans" stroke="#222" stroke-width="0.15">1</text><text x="518.1" y="137.1" font-size="5.4" text-anchor="middle" fill="#222" font-weight="normal" font-family="Liberation Sans" stroke="#222" stroke-width="0.15">2</text><text x="58.7" y="155.6" font-size="8.45" text-anchor="start" fill="#111" font-weight="bold" font-family="Liberation Serif" stroke="#111" stroke-width="0.15">Training group</text><line x1="55" y1="157.3" x2="55" y2="248" stroke="#444" stroke-width="1"/><line x1="55" y1="248" x2="180.7" y2="248" stroke="#444" stroke-width="1"/><line x1="55" y1="161.4" x2="52.8" y2="161.4" stroke="#666666" stroke-width="0.8"/><text x="52.1" y="163.8" font-size="7.3" text-anchor="end" fill="#333" font-weight="normal" font-family="Liberation Sans" stroke="#333" stroke-width="0.15">1.00</text><line x1="55" y1="182.1" x2="52.8" y2="182.1" stroke="#666666" stroke-width="0.8"/><text x="52.1" y="184.5" font-size="7.3" text-anchor="end" fill="#333" font-weight="normal" font-family="Liberation Sans" stroke="#333" stroke-width="0.15">0.75</text><line x1="55" y1="202.75" x2="52.8" y2="202.75" stroke="#666666" stroke-width="0.8"/><text x="52.1" y="205.15" font-size="7.3" text-anchor="end" fill="#333" font-weight="normal" font-family="Liberation Sans" stroke="#333" stroke-width="0.15">0.50</text><line x1="55" y1="223.4" x2="52.8" y2="223.4" stroke="#666666" stroke-width="0.8"/><text x="52.1" y="225.8" font-size="7.3" text-anchor="end" fill="#333" font-weight="normal" font-family="Liberation Sans" stroke="#333" stroke-width="0.15">0.25</text><line x1="55" y1="244.1" x2="52.8" y2="244.1" stroke="#666666" stroke-width="0.8"/><text x="52.1" y="246.5" font-size="7.3" text-anchor="end" fill="#333" font-weight="normal" font-family="Liberation Sans" stroke="#333" stroke-width="0.15">0.00</text><line x1="60.7" y1="248" x2="60.7" y2="250.2" stroke="#666666" stroke-width="0.8"/><text x="0" y="0" font-size="7.8" text-anchor="middle" fill="#222" font-weight="normal" font-family="Liberation Sans" transform="translate(60.7 257) scale(0.92 1)" stroke="#222" stroke-width="0.15">0</text><line x1="79.75" y1="248" x2="79.75" y2="250.2" stroke="#666666" stroke-width="0.8"/><text x="0" y="0" font-size="7.8" text-anchor="middle" fill="#222" font-weight="normal" font-family="Liberation Sans" transform="translate(79.75 257) scale(0.92 1)" stroke="#222" stroke-width="0.15">1</text><line x1="98.8" y1="248" x2="98.8" y2="250.2" stroke="#666666" stroke-width="0.8"/><text x="0" y="0" font-size="7.8" text-anchor="middle" fill="#222" font-weight="normal" font-family="Liberation Sans" transform="translate(98.8 257) scale(0.92 1)" stroke="#222" stroke-width="0.15">2</text><line x1="117.85" y1="248" x2="117.85" y2="250.2" stroke="#666666" stroke-width="0.8"/><text x="0" y="0" font-size="7.8" text-anchor="middle" fill="#222" font-weight="normal" font-family="Liberation Sans" transform="translate(117.85 257) scale(0.92 1)" stroke="#222" stroke-width="0.15">3</text><line x1="136.9" y1="248" x2="136.9" y2="250.2" stroke="#666666" stroke-width="0.8"/><text x="0" y="0" font-size="7.8" text-anchor="middle" fill="#222" font-weight="normal" font-family="Liberation Sans" transform="translate(136.9 257) scale(0.92 1)" stroke="#222" stroke-width="0.15">4</text><line x1="155.95" y1="248" x2="155.95" y2="250.2" stroke="#666666" stroke-width="0.8"/><text x="0" y="0" font-size="7.8" text-anchor="middle" fill="#222" font-weight="normal" font-family="Liberation Sans" transform="translate(155.95 257) scale(0.92 1)" stroke="#222" stroke-width="0.15">5</text><line x1="175" y1="248" x2="175" y2="250.2" stroke="#666666" stroke-width="0.8"/><text x="0" y="0" font-size="7.8" text-anchor="middle" fill="#222" font-weight="normal" font-family="Liberation Sans" transform="translate(175 257) scale(0.92 1)" stroke="#222" stroke-width="0.15">6</text><text x="0" y="0" font-size="8.4" text-anchor="middle" fill="#111" font-weight="normal" font-family="Liberation Sans" transform="translate(19.3 202) scale(0.92 1) rotate(-90)" stroke="#111" stroke-width="0.15">Overall survival</text><path d="M60.7 161.4 H67.9 V162.9 H69.8 V164.8 H71.7 V166.7 H73.6 V168.6 H76.1 V170.35 H78.6 V172.1 H79.67 V174.07 H80.75 V176.05 H81.83 V178.03 H82.9 V180 H91.4 V181 H92.15 V183 H92.9 V185 H93.6 V186.9 H94.3 V188.8 H95 V190.7 H95.7 V192.6 H96.4 V194.5 H97.1 V196.4 H174.3 V220 H180" stroke="#27397F" stroke-width="1.4" fill="none" stroke-linejoin="miter"/><path d="M60.7 161.4 H63.6 V163.6 H65.27 V165.27 H66.93 V166.93 H68.6 V168.6 H69.47 V170.2 H70.35 V171.8 H71.22 V173.4 H72.1 V175 H72.68 V176.72 H73.26 V178.44 H73.84 V180.16 H74.42 V181.88 H75 V183.6 H75.42 V185.3 H75.84 V187 H76.26 V188.7 H76.68 V190.4 H77.1 V192.1 H78.9 V194.25 H80.7 V196.4 H81.8 V198.2 H82.9 V200 H85 H85.12 V201.9 H85.23 V203.8 H85.35 V205.7 H85.47 V207.6 H85.58 V209.5 H85.7 V211.4 H86.4 V212.85 H87.1 V214.3 H87.65 V215.9 H88.2 V217.5 H88.75 V219.1 H89.3 V220.7 H94.3 V221.4 H95.7 V223.6 H99.3 V234.3 H167.1 V243.6" stroke="#EC3D2A" stroke-width="1.4" fill="none" stroke-linejoin="miter"/><line x1="66" y1="160.9" x2="66" y2="164.5" stroke="#27397F" stroke-width="0.9"/><line x1="72" y1="166.6" x2="72" y2="170.2" stroke="#27397F" stroke-width="0.9"/><line x1="80" y1="170.1" x2="80" y2="173.7" stroke="#27397F" stroke-width="0.9"/><line x1="88" y1="179" x2="88" y2="182.6" stroke="#27397F" stroke-width="0.9"/><line x1="95" y1="188" x2="95" y2="191.6" stroke="#27397F" stroke-width="0.9"/><line x1="103.6" y1="194.4" x2="103.6" y2="198" stroke="#27397F" stroke-width="0.9"/><line x1="112" y1="194.4" x2="112" y2="198" stroke="#27397F" stroke-width="0.9"/><line x1="113.6" y1="194.4" x2="113.6" y2="198" stroke="#27397F" stroke-width="0.9"/><line x1="117.9" y1="194.4" x2="117.9" y2="198" stroke="#27397F" stroke-width="0.9"/><line x1="127.9" y1="194.4" x2="127.9" y2="198" stroke="#27397F" stroke-width="0.9"/><line x1="129.3" y1="194.4" x2="129.3" y2="198" stroke="#27397F" stroke-width="0.9"/><line x1="132.9" y1="194.4" x2="132.9" y2="198" stroke="#27397F" stroke-width="0.9"/><line x1="141.4" y1="194.4" x2="141.4" y2="198" stroke="#27397F" stroke-width="0.9"/><line x1="154.3" y1="194.4" x2="154.3" y2="198" stroke="#27397F" stroke-width="0.9"/><line x1="161.4" y1="194.4" x2="161.4" y2="198" stroke="#27397F" stroke-width="0.9"/><line x1="165.7" y1="194.4" x2="165.7" y2="198" stroke="#27397F" stroke-width="0.9"/><line x1="180" y1="218" x2="180" y2="221.6" stroke="#27397F" stroke-width="0.9"/><line x1="64" y1="161.6" x2="64" y2="165.2" stroke="#EC3D2A" stroke-width="0.9"/><line x1="87.9" y1="212.3" x2="87.9" y2="215.9" stroke="#EC3D2A" stroke-width="0.9"/><line x1="96.4" y1="221.6" x2="96.4" y2="225.2" stroke="#EC3D2A" stroke-width="0.9"/><line x1="98.6" y1="221.6" x2="98.6" y2="225.2" stroke="#EC3D2A" stroke-width="0.9"/><line x1="110" y1="232.3" x2="110" y2="235.9" stroke="#EC3D2A" stroke-width="0.9"/><line x1="122.9" y1="166" x2="132.9" y2="166" stroke="#EC3D2A" stroke-width="1.6"/><line x1="127.9" y1="164" x2="127.9" y2="167.6" stroke="#EC3D2A" stroke-width="0.9"/><line x1="122.9" y1="175.3" x2="132.9" y2="175.3" stroke="#27397F" stroke-width="1.6"/><line x1="127.9" y1="173.3" x2="127.9" y2="176.9" stroke="#27397F" stroke-width="0.9"/><text x="136.9" y="168" font-size="5.6" text-anchor="start" fill="#222" font-weight="normal" font-family="Liberation Sans" stroke="#222" stroke-width="0.15">High risk</text><text x="136.9" y="177.3" font-size="5.6" text-anchor="start" fill="#222" font-weight="normal" font-family="Liberation Sans" stroke="#222" stroke-width="0.15">Low risk</text><text x="125" y="186.6" font-size="5.45" text-anchor="start" fill="#222" font-weight="normal" font-family="Liberation Sans" stroke="#222" stroke-width="0.15">Log-rank P&lt;0.001</text><line x1="55" y1="262" x2="55" y2="284" stroke="#444" stroke-width="1"/><line x1="55" y1="284" x2="180.7" y2="284" stroke="#444" stroke-width="1"/><line x1="55" y1="268" x2="53" y2="268" stroke="#666666" stroke-width="0.8"/><line x1="55" y1="278" x2="53" y2="278" stroke="#666666" stroke-width="0.8"/><text x="0" y="0" font-size="8" text-anchor="end" fill="#EA4535" font-weight="normal" font-family="Liberation Sans" transform="translate(51.7 270) scale(0.9 1)" stroke="#EA4535" stroke-width="0.08">High risk</text><text x="0" y="0" font-size="8" text-anchor="end" fill="#36498C" font-weight="normal" font-family="Liberation Sans" transform="translate(51.7 280) scale(0.9 1)" stroke="#36498C" stroke-width="0.08">Low risk</text><text x="0" y="0" font-size="8.3" text-anchor="middle" fill="#EA4535" font-weight="normal" font-family="Liberation Sans" transform="translate(60.7 271) scale(0.9 1)" stroke="#EA4535" stroke-width="0.05">44</text><text x="0" y="0" font-size="8.3" text-anchor="middle" fill="#36498C" font-weight="normal" font-family="Liberation Sans" transform="translate(60.7 281) scale(0.9 1)" stroke="#36498C" stroke-width="0.05">45</text><line x1="60.7" y1="284" x2="60.7" y2="286.2" stroke="#666666" stroke-width="0.8"/><text x="0" y="0" font-size="7.8" text-anchor="middle" fill="#222" font-weight="normal" font-family="Liberation Sans" transform="translate(60.7 292.5) scale(0.92 1)" stroke="#222" stroke-width="0.15">0</text><text x="0" y="0" font-size="8.3" text-anchor="middle" fill="#EA4535" font-weight="normal" font-family="Liberation Sans" transform="translate(79.75 271) scale(0.9 1)" stroke="#EA4535" stroke-width="0.05">22</text><text x="0" y="0" font-size="8.3" text-anchor="middle" fill="#36498C" font-weight="normal" font-family="Liberation Sans" transform="translate(79.75 281) scale(0.9 1)" stroke="#36498C" stroke-width="0.05">34</text><line x1="79.75" y1="284" x2="79.75" y2="286.2" stroke="#666666" stroke-width="0.8"/><text x="0" y="0" font-size="7.8" text-anchor="middle" fill="#222" font-weight="normal" font-family="Liberation Sans" transform="translate(79.75 292.5) scale(0.92 1)" stroke="#222" stroke-width="0.15">1</text><text x="0" y="0" font-size="8.3" text-anchor="middle" fill="#EA4535" font-weight="normal" font-family="Liberation Sans" transform="translate(98.8 271) scale(0.9 1)" stroke="#EA4535" stroke-width="0.05">4</text><text x="0" y="0" font-size="8.3" text-anchor="middle" fill="#36498C" font-weight="normal" font-family="Liberation Sans" transform="translate(98.8 281) scale(0.9 1)" stroke="#36498C" stroke-width="0.05">17</text><line x1="98.8" y1="284" x2="98.8" y2="286.2" stroke="#666666" stroke-width="0.8"/><text x="0" y="0" font-size="7.8" text-anchor="middle" fill="#222" font-weight="normal" font-family="Liberation Sans" transform="translate(98.8 292.5) scale(0.92 1)" stroke="#222" stroke-width="0.15">2</text><text x="0" y="0" font-size="8.3" text-anchor="middle" fill="#EA4535" font-weight="normal" font-family="Liberation Sans" transform="translate(117.85 271) scale(0.9 1)" stroke="#EA4535" stroke-width="0.05">1</text><text x="0" y="0" font-size="8.3" text-anchor="middle" fill="#36498C" font-weight="normal" font-family="Liberation Sans" transform="translate(117.85 281) scale(0.9 1)" stroke="#36498C" stroke-width="0.05">10</text><line x1="117.85" y1="284" x2="117.85" y2="286.2" stroke="#666666" stroke-width="0.8"/><text x="0" y="0" font-size="7.8" text-anchor="middle" fill="#222" font-weight="normal" font-family="Liberation Sans" transform="translate(117.85 292.5) scale(0.92 1)" stroke="#222" stroke-width="0.15">3</text><text x="0" y="0" font-size="8.3" text-anchor="middle" fill="#EA4535" font-weight="normal" font-family="Liberation Sans" transform="translate(136.9 271) scale(0.9 1)" stroke="#EA4535" stroke-width="0.05">1</text><text x="0" y="0" font-size="8.3" text-anchor="middle" fill="#36498C" font-weight="normal" font-family="Liberation Sans" transform="translate(136.9 281) scale(0.9 1)" stroke="#36498C" stroke-width="0.05">6</text><line x1="136.9" y1="284" x2="136.9" y2="286.2" stroke="#666666" stroke-width="0.8"/><text x="0" y="0" font-size="7.8" text-anchor="middle" fill="#222" font-weight="normal" font-family="Liberation Sans" transform="translate(136.9 292.5) scale(0.92 1)" stroke="#222" stroke-width="0.15">4</text><text x="0" y="0" font-size="8.3" text-anchor="middle" fill="#EA4535" font-weight="normal" font-family="Liberation Sans" transform="translate(155.95 271) scale(0.9 1)" stroke="#EA4535" stroke-width="0.05">1</text><text x="0" y="0" font-size="8.3" text-anchor="middle" fill="#36498C" font-weight="normal" font-family="Liberation Sans" transform="translate(155.95 281) scale(0.9 1)" stroke="#36498C" stroke-width="0.05">4</text><line x1="155.95" y1="284" x2="155.95" y2="286.2" stroke="#666666" stroke-width="0.8"/><text x="0" y="0" font-size="7.8" text-anchor="middle" fill="#222" font-weight="normal" font-family="Liberation Sans" transform="translate(155.95 292.5) scale(0.92 1)" stroke="#222" stroke-width="0.15">5</text><text x="0" y="0" font-size="8.3" text-anchor="middle" fill="#EA4535" font-weight="normal" font-family="Liberation Sans" transform="translate(175 271) scale(0.9 1)" stroke="#EA4535" stroke-width="0.05">0</text><text x="0" y="0" font-size="8.3" text-anchor="middle" fill="#36498C" font-weight="normal" font-family="Liberation Sans" transform="translate(175 281) scale(0.9 1)" stroke="#36498C" stroke-width="0.05">1</text><line x1="175" y1="284" x2="175" y2="286.2" stroke="#666666" stroke-width="0.8"/><text x="0" y="0" font-size="7.8" text-anchor="middle" fill="#222" font-weight="normal" font-family="Liberation Sans" transform="translate(175 292.5) scale(0.92 1)" stroke="#222" stroke-width="0.15">6</text><text x="0" y="0" font-size="8.3" text-anchor="middle" fill="#111" font-weight="normal" font-family="Liberation Sans" transform="translate(19.6 272.2) scale(0.93 1) rotate(-90)" stroke="#111" stroke-width="0.15">Risk</text><text x="117.85" y="301.8" font-size="8.55" text-anchor="middle" fill="#222" font-weight="normal" font-family="Liberation Sans" stroke="#222" stroke-width="0.15">Time(years)</text><text x="241" y="155.6" font-size="8.45" text-anchor="start" fill="#111" font-weight="bold" font-family="Liberation Serif" stroke="#111" stroke-width="0.15">Validation group</text><line x1="237.5" y1="157.3" x2="237.5" y2="248" stroke="#444" stroke-width="1"/><line x1="237.5" y1="248" x2="362.1" y2="248" stroke="#444" stroke-width="1"/><line x1="237.5" y1="161.4" x2="235.3" y2="161.4" stroke="#666666" stroke-width="0.8"/><text x="234.6" y="163.8" font-size="7.3" text-anchor="end" fill="#333" font-weight="normal" font-family="Liberation Sans" stroke="#333" stroke-width="0.15">1.00</text><line x1="237.5" y1="182.1" x2="235.3" y2="182.1" stroke="#666666" stroke-width="0.8"/><text x="234.6" y="184.5" font-size="7.3" text-anchor="end" fill="#333" font-weight="normal" font-family="Liberation Sans" stroke="#333" stroke-width="0.15">0.75</text><line x1="237.5" y1="202.75" x2="235.3" y2="202.75" stroke="#666666" stroke-width="0.8"/><text x="234.6" y="205.15" font-size="7.3" text-anchor="end" fill="#333" font-weight="normal" font-family="Liberation Sans" stroke="#333" stroke-width="0.15">0.50</text><line x1="237.5" y1="223.4" x2="235.3" y2="223.4" stroke="#666666" stroke-width="0.8"/><text x="234.6" y="225.8" font-size="7.3" text-anchor="end" fill="#333" font-weight="normal" font-family="Liberation Sans" stroke="#333" stroke-width="0.15">0.25</text><line x1="237.5" y1="244.1" x2="235.3" y2="244.1" stroke="#666666" stroke-width="0.8"/><text x="234.6" y="246.5" font-size="7.3" text-anchor="end" fill="#333" font-weight="normal" font-family="Liberation Sans" stroke="#333" stroke-width="0.15">0.00</text><line x1="242.4" y1="248" x2="242.4" y2="250.2" stroke="#666666" stroke-width="0.8"/><text x="0" y="0" font-size="7.8" text-anchor="middle" fill="#222" font-weight="normal" font-family="Liberation Sans" transform="translate(242.4 257) scale(0.92 1)" stroke="#222" stroke-width="0.15">0</text><line x1="256.7" y1="248" x2="256.7" y2="250.2" stroke="#666666" stroke-width="0.8"/><text x="0" y="0" font-size="7.8" text-anchor="middle" fill="#222" font-weight="normal" font-family="Liberation Sans" transform="translate(256.7 257) scale(0.92 1)" stroke="#222" stroke-width="0.15">1</text><line x1="271" y1="248" x2="271" y2="250.2" stroke="#666666" stroke-width="0.8"/><text x="0" y="0" font-size="7.8" text-anchor="middle" fill="#222" font-weight="normal" font-family="Liberation Sans" transform="translate(271 257) scale(0.92 1)" stroke="#222" stroke-width="0.15">2</text><line x1="285.3" y1="248" x2="285.3" y2="250.2" stroke="#666666" stroke-width="0.8"/><text x="0" y="0" font-size="7.8" text-anchor="middle" fill="#222" font-weight="normal" font-family="Liberation Sans" transform="translate(285.3 257) scale(0.92 1)" stroke="#222" stroke-width="0.15">3</text><line x1="299.6" y1="248" x2="299.6" y2="250.2" stroke="#666666" stroke-width="0.8"/><text x="0" y="0" font-size="7.8" text-anchor="middle" fill="#222" font-weight="normal" font-family="Liberation Sans" transform="translate(299.6 257) scale(0.92 1)" stroke="#222" stroke-width="0.15">4</text><line x1="313.9" y1="248" x2="313.9" y2="250.2" stroke="#666666" stroke-width="0.8"/><text x="0" y="0" font-size="7.8" text-anchor="middle" fill="#222" font-weight="normal" font-family="Liberation Sans" transform="translate(313.9 257) scale(0.92 1)" stroke="#222" stroke-width="0.15">5</text><line x1="328.2" y1="248" x2="328.2" y2="250.2" stroke="#666666" stroke-width="0.8"/><text x="0" y="0" font-size="7.8" text-anchor="middle" fill="#222" font-weight="normal" font-family="Liberation Sans" transform="translate(328.2 257) scale(0.92 1)" stroke="#222" stroke-width="0.15">6</text><line x1="342.5" y1="248" x2="342.5" y2="250.2" stroke="#666666" stroke-width="0.8"/><text x="0" y="0" font-size="7.8" text-anchor="middle" fill="#222" font-weight="normal" font-family="Liberation Sans" transform="translate(342.5 257) scale(0.92 1)" stroke="#222" stroke-width="0.15">7</text><line x1="356.8" y1="248" x2="356.8" y2="250.2" stroke="#666666" stroke-width="0.8"/><text x="0" y="0" font-size="7.8" text-anchor="middle" fill="#222" font-weight="normal" font-family="Liberation Sans" transform="translate(356.8 257) scale(0.92 1)" stroke="#222" stroke-width="0.15">8</text><text x="0" y="0" font-size="8.4" text-anchor="middle" fill="#111" font-weight="normal" font-family="Liberation Sans" transform="translate(200.9 202) scale(0.92 1) rotate(-90)" stroke="#111" stroke-width="0.15">Overall survival</text><path d="M242.4 161.4 H247 H248.4 V163.6 H251.3 V165 H255.6 V166.4 H257 V168.6 H257.47 V170.27 H257.93 V171.93 H258.4 V173.6 H260.6 V175 H261.65 V176.8 H262.7 V178.6 H262.93 V180.27 H263.17 V181.93 H263.4 V183.6 H263.9 V185.27 H264.4 V186.93 H264.9 V188.6 H265.6 V190 H266.07 V191.9 H266.53 V193.8 H267 V195.7 H267.7 V197.5 H268.4 V199.3 H268.97 V200.97 H269.53 V202.63 H270.1 V204.3 H284.1 V207.9 H285.07 V209.8 H286.03 V211.7 H287 V213.6 H294.9 V214.3 V220 H301.4 V225.7 H350.7" stroke="#27397F" stroke-width="1.4" fill="none" stroke-linejoin="miter"/><path d="M242.4 161.4 H243.4 V162.1 H246.3 V169.3 H246.63 V171.2 H246.97 V173.1 H247.3 V175 H247.85 V177.15 H248.4 V179.3 H251.3 V180.7 H252 V182.85 H252.7 V185 H253.8 V187.15 H254.9 V189.3 H256.07 V190.97 H257.23 V192.63 H258.4 V194.3 H259.5 V196.45 H260.6 V198.6 H261.07 V200.27 H261.53 V201.93 H262 V203.6 H264.9 V204.3 H265.6 V206.1 H266.3 V207.9 H267 V209.65 H267.7 V211.4 H268.4 V213.2 H269.1 V215 H270.6 V216.4 H278.4 V223.6 H292.7" stroke="#EC3D2A" stroke-width="1.4" fill="none" stroke-linejoin="miter"/><line x1="243" y1="159.4" x2="243" y2="163" stroke="#27397F" stroke-width="0.9"/><line x1="252" y1="163" x2="252" y2="166.6" stroke="#27397F" stroke-width="0.9"/><line x1="256" y1="164.4" x2="256" y2="168" stroke="#27397F" stroke-width="0.9"/><line x1="259" y1="171.6" x2="259" y2="175.2" stroke="#27397F" stroke-width="0.9"/><line x1="262" y1="173" x2="262" y2="176.6" stroke="#27397F" stroke-width="0.9"/><line x1="265" y1="186.6" x2="265" y2="190.2" stroke="#27397F" stroke-width="0.9"/><line x1="268" y1="197.3" x2="268" y2="200.9" stroke="#27397F" stroke-width="0.9"/><line x1="276" y1="202.3" x2="276" y2="205.9" stroke="#27397F" stroke-width="0.9"/><line x1="287" y1="211.6" x2="287" y2="215.2" stroke="#27397F" stroke-width="0.9"/><line x1="315" y1="223.7" x2="315" y2="227.3" stroke="#27397F" stroke-width="0.9"/><line x1="324.3" y1="223.7" x2="324.3" y2="227.3" stroke="#27397F" stroke-width="0.9"/><line x1="350" y1="223.7" x2="350" y2="227.3" stroke="#27397F" stroke-width="0.9"/><line x1="250" y1="178.7" x2="250" y2="182.3" stroke="#EC3D2A" stroke-width="0.9"/><line x1="254" y1="187.3" x2="254" y2="190.9" stroke="#EC3D2A" stroke-width="0.9"/><line x1="258" y1="192.3" x2="258" y2="195.9" stroke="#EC3D2A" stroke-width="0.9"/><line x1="267" y1="205.9" x2="267" y2="209.5" stroke="#EC3D2A" stroke-width="0.9"/><line x1="270" y1="213" x2="270" y2="216.6" stroke="#EC3D2A" stroke-width="0.9"/><line x1="281" y1="221.6" x2="281" y2="225.2" stroke="#EC3D2A" stroke-width="0.9"/><line x1="292.7" y1="221.6" x2="292.7" y2="225.2" stroke="#EC3D2A" stroke-width="0.9"/><line x1="302.5" y1="166" x2="312.5" y2="166" stroke="#EC3D2A" stroke-width="1.6"/><line x1="307.5" y1="164" x2="307.5" y2="167.6" stroke="#EC3D2A" stroke-width="0.9"/><line x1="302.5" y1="175.3" x2="312.5" y2="175.3" stroke="#27397F" stroke-width="1.6"/><line x1="307.5" y1="173.3" x2="307.5" y2="176.9" stroke="#27397F" stroke-width="0.9"/><text x="316.5" y="168" font-size="5.6" text-anchor="start" fill="#222" font-weight="normal" font-family="Liberation Sans" stroke="#222" stroke-width="0.15">High risk</text><text x="316.5" y="177.3" font-size="5.6" text-anchor="start" fill="#222" font-weight="normal" font-family="Liberation Sans" stroke="#222" stroke-width="0.15">Low risk</text><text x="304.6" y="186.6" font-size="5.45" text-anchor="start" fill="#222" font-weight="normal" font-family="Liberation Sans" stroke="#222" stroke-width="0.15">Log-rank P&lt;0.001</text><line x1="237.5" y1="262" x2="237.5" y2="284" stroke="#444" stroke-width="1"/><line x1="237.5" y1="284" x2="362.1" y2="284" stroke="#444" stroke-width="1"/><line x1="237.5" y1="268" x2="235.5" y2="268" stroke="#666666" stroke-width="0.8"/><line x1="237.5" y1="278" x2="235.5" y2="278" stroke="#666666" stroke-width="0.8"/><text x="0" y="0" font-size="8" text-anchor="end" fill="#EA4535" font-weight="normal" font-family="Liberation Sans" transform="translate(234.2 270) scale(0.9 1)" stroke="#EA4535" stroke-width="0.08">High risk</text><text x="0" y="0" font-size="8" text-anchor="end" fill="#36498C" font-weight="normal" font-family="Liberation Sans" transform="translate(234.2 280) scale(0.9 1)" stroke="#36498C" stroke-width="0.08">Low risk</text><text x="0" y="0" font-size="8.3" text-anchor="middle" fill="#EA4535" font-weight="normal" font-family="Liberation Sans" transform="translate(242.4 271) scale(0.9 1)" stroke="#EA4535" stroke-width="0.05">37</text><text x="0" y="0" font-size="8.3" text-anchor="middle" fill="#36498C" font-weight="normal" font-family="Liberation Sans" transform="translate(242.4 281) scale(0.9 1)" stroke="#36498C" stroke-width="0.05">52</text><line x1="242.4" y1="284" x2="242.4" y2="286.2" stroke="#666666" stroke-width="0.8"/><text x="0" y="0" font-size="7.8" text-anchor="middle" fill="#222" font-weight="normal" font-family="Liberation Sans" transform="translate(242.4 292.5) scale(0.92 1)" stroke="#222" stroke-width="0.15">0</text><text x="0" y="0" font-size="8.3" text-anchor="middle" fill="#EA4535" font-weight="normal" font-family="Liberation Sans" transform="translate(256.7 271) scale(0.9 1)" stroke="#EA4535" stroke-width="0.05">20</text><text x="0" y="0" font-size="8.3" text-anchor="middle" fill="#36498C" font-weight="normal" font-family="Liberation Sans" transform="translate(256.7 281) scale(0.9 1)" stroke="#36498C" stroke-width="0.05">39</text><line x1="256.7" y1="284" x2="256.7" y2="286.2" stroke="#666666" stroke-width="0.8"/><text x="0" y="0" font-size="7.8" text-anchor="middle" fill="#222" font-weight="normal" font-family="Liberation Sans" transform="translate(256.7 292.5) scale(0.92 1)" stroke="#222" stroke-width="0.15">1</text><text x="0" y="0" font-size="8.3" text-anchor="middle" fill="#EA4535" font-weight="normal" font-family="Liberation Sans" transform="translate(271 271) scale(0.9 1)" stroke="#EA4535" stroke-width="0.05">5</text><text x="0" y="0" font-size="8.3" text-anchor="middle" fill="#36498C" font-weight="normal" font-family="Liberation Sans" transform="translate(271 281) scale(0.9 1)" stroke="#36498C" stroke-width="0.05">10</text><line x1="271" y1="284" x2="271" y2="286.2" stroke="#666666" stroke-width="0.8"/><text x="0" y="0" font-size="7.8" text-anchor="middle" fill="#222" font-weight="normal" font-family="Liberation Sans" transform="translate(271 292.5) scale(0.92 1)" stroke="#222" stroke-width="0.15">2</text><text x="0" y="0" font-size="8.3" text-anchor="middle" fill="#EA4535" font-weight="normal" font-family="Liberation Sans" transform="translate(285.3 271) scale(0.9 1)" stroke="#EA4535" stroke-width="0.05">1</text><text x="0" y="0" font-size="8.3" text-anchor="middle" fill="#36498C" font-weight="normal" font-family="Liberation Sans" transform="translate(285.3 281) scale(0.9 1)" stroke="#36498C" stroke-width="0.05">8</text><line x1="285.3" y1="284" x2="285.3" y2="286.2" stroke="#666666" stroke-width="0.8"/><text x="0" y="0" font-size="7.8" text-anchor="middle" fill="#222" font-weight="normal" font-family="Liberation Sans" transform="translate(285.3 292.5) scale(0.92 1)" stroke="#222" stroke-width="0.15">3</text><text x="0" y="0" font-size="8.3" text-anchor="middle" fill="#EA4535" font-weight="normal" font-family="Liberation Sans" transform="translate(299.6 271) scale(0.9 1)" stroke="#EA4535" stroke-width="0.05">0</text><text x="0" y="0" font-size="8.3" text-anchor="middle" fill="#36498C" font-weight="normal" font-family="Liberation Sans" transform="translate(299.6 281) scale(0.9 1)" stroke="#36498C" stroke-width="0.05">4</text><line x1="299.6" y1="284" x2="299.6" y2="286.2" stroke="#666666" stroke-width="0.8"/><text x="0" y="0" font-size="7.8" text-anchor="middle" fill="#222" font-weight="normal" font-family="Liberation Sans" transform="translate(299.6 292.5) scale(0.92 1)" stroke="#222" stroke-width="0.15">4</text><text x="0" y="0" font-size="8.3" text-anchor="middle" fill="#EA4535" font-weight="normal" font-family="Liberation Sans" transform="translate(313.9 271) scale(0.9 1)" stroke="#EA4535" stroke-width="0.05">0</text><text x="0" y="0" font-size="8.3" text-anchor="middle" fill="#36498C" font-weight="normal" font-family="Liberation Sans" transform="translate(313.9 281) scale(0.9 1)" stroke="#36498C" stroke-width="0.05">3</text><line x1="313.9" y1="284" x2="313.9" y2="286.2" stroke="#666666" stroke-width="0.8"/><text x="0" y="0" font-size="7.8" text-anchor="middle" fill="#222" font-weight="normal" font-family="Liberation Sans" transform="translate(313.9 292.5) scale(0.92 1)" stroke="#222" stroke-width="0.15">5</text><text x="0" y="0" font-size="8.3" text-anchor="middle" fill="#EA4535" font-weight="normal" font-family="Liberation Sans" transform="translate(328.2 271) scale(0.9 1)" stroke="#EA4535" stroke-width="0.05">0</text><text x="0" y="0" font-size="8.3" text-anchor="middle" fill="#36498C" font-weight="normal" font-family="Liberation Sans" transform="translate(328.2 281) scale(0.9 1)" stroke="#36498C" stroke-width="0.05">1</text><line x1="328.2" y1="284" x2="328.2" y2="286.2" stroke="#666666" stroke-width="0.8"/><text x="0" y="0" font-size="7.8" text-anchor="middle" fill="#222" font-weight="normal" font-family="Liberation Sans" transform="translate(328.2 292.5) scale(0.92 1)" stroke="#222" stroke-width="0.15">6</text><text x="0" y="0" font-size="8.3" text-anchor="middle" fill="#EA4535" font-weight="normal" font-family="Liberation Sans" transform="translate(342.5 271) scale(0.9 1)" stroke="#EA4535" stroke-width="0.05">0</text><text x="0" y="0" font-size="8.3" text-anchor="middle" fill="#36498C" font-weight="normal" font-family="Liberation Sans" transform="translate(342.5 281) scale(0.9 1)" stroke="#36498C" stroke-width="0.05">1</text><line x1="342.5" y1="284" x2="342.5" y2="286.2" stroke="#666666" stroke-width="0.8"/><text x="0" y="0" font-size="7.8" text-anchor="middle" fill="#222" font-weight="normal" font-family="Liberation Sans" transform="translate(342.5 292.5) scale(0.92 1)" stroke="#222" stroke-width="0.15">7</text><text x="0" y="0" font-size="8.3" text-anchor="middle" fill="#EA4535" font-weight="normal" font-family="Liberation Sans" transform="translate(356.8 271) scale(0.9 1)" stroke="#EA4535" stroke-width="0.05">0</text><text x="0" y="0" font-size="8.3" text-anchor="middle" fill="#36498C" font-weight="normal" font-family="Liberation Sans" transform="translate(356.8 281) scale(0.9 1)" stroke="#36498C" stroke-width="0.05">0</text><line x1="356.8" y1="284" x2="356.8" y2="286.2" stroke="#666666" stroke-width="0.8"/><text x="0" y="0" font-size="7.8" text-anchor="middle" fill="#222" font-weight="normal" font-family="Liberation Sans" transform="translate(356.8 292.5) scale(0.92 1)" stroke="#222" stroke-width="0.15">8</text><text x="0" y="0" font-size="8.3" text-anchor="middle" fill="#111" font-weight="normal" font-family="Liberation Sans" transform="translate(201.4 272.2) scale(0.93 1) rotate(-90)" stroke="#111" stroke-width="0.15">Risk</text><text x="299.6" y="301.8" font-size="8.55" text-anchor="middle" fill="#222" font-weight="normal" font-family="Liberation Sans" stroke="#222" stroke-width="0.15">Time(years)</text><text x="419.4" y="155.6" font-size="8.45" text-anchor="start" fill="#111" font-weight="bold" font-family="Liberation Serif" stroke="#111" stroke-width="0.15">Entire cohort</text><line x1="414.7" y1="157.3" x2="414.7" y2="248" stroke="#444" stroke-width="1"/><line x1="414.7" y1="248" x2="539.9" y2="248" stroke="#444" stroke-width="1"/><line x1="414.7" y1="161.4" x2="412.5" y2="161.4" stroke="#666666" stroke-width="0.8"/><text x="411.8" y="163.8" font-size="7.3" text-anchor="end" fill="#333" font-weight="normal" font-family="Liberation Sans" stroke="#333" stroke-width="0.15">1.00</text><line x1="414.7" y1="182.1" x2="412.5" y2="182.1" stroke="#666666" stroke-width="0.8"/><text x="411.8" y="184.5" font-size="7.3" text-anchor="end" fill="#333" font-weight="normal" font-family="Liberation Sans" stroke="#333" stroke-width="0.15">0.75</text><line x1="414.7" y1="202.75" x2="412.5" y2="202.75" stroke="#666666" stroke-width="0.8"/><text x="411.8" y="205.15" font-size="7.3" text-anchor="end" fill="#333" font-weight="normal" font-family="Liberation Sans" stroke="#333" stroke-width="0.15">0.50</text><line x1="414.7" y1="223.4" x2="412.5" y2="223.4" stroke="#666666" stroke-width="0.8"/><text x="411.8" y="225.8" font-size="7.3" text-anchor="end" fill="#333" font-weight="normal" font-family="Liberation Sans" stroke="#333" stroke-width="0.15">0.25</text><line x1="414.7" y1="244.1" x2="412.5" y2="244.1" stroke="#666666" stroke-width="0.8"/><text x="411.8" y="246.5" font-size="7.3" text-anchor="end" fill="#333" font-weight="normal" font-family="Liberation Sans" stroke="#333" stroke-width="0.15">0.00</text><line x1="420.3" y1="248" x2="420.3" y2="250.2" stroke="#666666" stroke-width="0.8"/><text x="0" y="0" font-size="7.8" text-anchor="middle" fill="#222" font-weight="normal" font-family="Liberation Sans" transform="translate(420.3 257) scale(0.92 1)" stroke="#222" stroke-width="0.15">0</text><line x1="434.55" y1="248" x2="434.55" y2="250.2" stroke="#666666" stroke-width="0.8"/><text x="0" y="0" font-size="7.8" text-anchor="middle" fill="#222" font-weight="normal" font-family="Liberation Sans" transform="translate(434.55 257) scale(0.92 1)" stroke="#222" stroke-width="0.15">1</text><line x1="448.8" y1="248" x2="448.8" y2="250.2" stroke="#666666" stroke-width="0.8"/><text x="0" y="0" font-size="7.8" text-anchor="middle" fill="#222" font-weight="normal" font-family="Liberation Sans" transform="translate(448.8 257) scale(0.92 1)" stroke="#222" stroke-width="0.15">2</text><line x1="463.05" y1="248" x2="463.05" y2="250.2" stroke="#666666" stroke-width="0.8"/><text x="0" y="0" font-size="7.8" text-anchor="middle" fill="#222" font-weight="normal" font-family="Liberation Sans" transform="translate(463.05 257) scale(0.92 1)" stroke="#222" stroke-width="0.15">3</text><line x1="477.3" y1="248" x2="477.3" y2="250.2" stroke="#666666" stroke-width="0.8"/><text x="0" y="0" font-size="7.8" text-anchor="middle" fill="#222" font-weight="normal" font-family="Liberation Sans" transform="translate(477.3 257) scale(0.92 1)" stroke="#222" stroke-width="0.15">4</text><line x1="491.55" y1="248" x2="491.55" y2="250.2" stroke="#666666" stroke-width="0.8"/><text x="0" y="0" font-size="7.8" text-anchor="middle" fill="#222" font-weight="normal" font-family="Liberation Sans" transform="translate(491.55 257) scale(0.92 1)" stroke="#222" stroke-width="0.15">5</text><line x1="505.8" y1="248" x2="505.8" y2="250.2" stroke="#666666" stroke-width="0.8"/><text x="0" y="0" font-size="7.8" text-anchor="middle" fill="#222" font-weight="normal" font-family="Liberation Sans" transform="translate(505.8 257) scale(0.92 1)" stroke="#222" stroke-width="0.15">6</text><line x1="520.05" y1="248" x2="520.05" y2="250.2" stroke="#666666" stroke-width="0.8"/><text x="0" y="0" font-size="7.8" text-anchor="middle" fill="#222" font-weight="normal" font-family="Liberation Sans" transform="translate(520.05 257) scale(0.92 1)" stroke="#222" stroke-width="0.15">7</text><line x1="534.3" y1="248" x2="534.3" y2="250.2" stroke="#666666" stroke-width="0.8"/><text x="0" y="0" font-size="7.8" text-anchor="middle" fill="#222" font-weight="normal" font-family="Liberation Sans" transform="translate(534.3 257) scale(0.92 1)" stroke="#222" stroke-width="0.15">8</text><text x="0" y="0" font-size="8.4" text-anchor="middle" fill="#111" font-weight="normal" font-family="Liberation Sans" transform="translate(379.4 202) scale(0.92 1) rotate(-90)" stroke="#111" stroke-width="0.15">Overall survival</text><path d="M420.3 161.4 H422.85 V162.85 H425.4 V164.3 H428.3 V166.4 H432.6 V168.6 H434 V170 H435.4 V171.4 H436.15 V173.2 H436.9 V175 H438.3 V176.8 H439.7 V178.6 H440.67 V180.5 H441.63 V182.4 H442.6 V184.3 H442.95 V185.9 H443.3 V187.5 H443.65 V189.1 H444 V190.7 H444.7 V192.5 H445.4 V194.3 H446.5 V196.1 H447.6 V197.9 H448.3 V200 H461.1 H463.3 V202.1 H465.4 V204.3 H472.6 V205.7 H474.1 V207.9 H479.1 V212.1 H505.6 V222.6 H528.4" stroke="#27397F" stroke-width="1.4" fill="none" stroke-linejoin="miter"/><path d="M420.3 161.4 H423.3 V162.9 H424 V164.65 H424.7 V166.4 H425.05 V168.2 H425.4 V170 H425.75 V171.8 H426.1 V173.6 H427.2 V175.35 H428.3 V177.1 H429 V178.77 H429.7 V180.43 H430.4 V182.1 H430.77 V183.9 H431.15 V185.7 H431.52 V187.5 H431.9 V189.3 H432.95 V191.45 H434 V193.6 H435.45 V195.75 H436.9 V197.9 H437.42 V199.5 H437.95 V201.1 H438.48 V202.7 H439 V204.3 H439.47 V205.97 H439.93 V207.63 H440.4 V209.3 H441.5 V211.1 H442.6 V212.9 H443.65 V214.65 H444.7 V216.4 H445.8 V217.85 H446.9 V219.3 H447.42 V220.9 H447.95 V222.5 H448.48 V224.1 H449 V225.7 H456.1 V228.6 H499.9 V243.6" stroke="#EC3D2A" stroke-width="1.4" fill="none" stroke-linejoin="miter"/><line x1="430" y1="166.6" x2="430" y2="170.2" stroke="#27397F" stroke-width="0.9"/><line x1="434" y1="169.4" x2="434" y2="173" stroke="#27397F" stroke-width="0.9"/><line x1="438" y1="176" x2="438" y2="179.6" stroke="#27397F" stroke-width="0.9"/><line x1="443" y1="184" x2="443" y2="187.6" stroke="#27397F" stroke-width="0.9"/><line x1="446" y1="194" x2="446" y2="197.6" stroke="#27397F" stroke-width="0.9"/><line x1="452" y1="198" x2="452" y2="201.6" stroke="#27397F" stroke-width="0.9"/><line x1="457" y1="198" x2="457" y2="201.6" stroke="#27397F" stroke-width="0.9"/><line x1="464" y1="201" x2="464" y2="204.6" stroke="#27397F" stroke-width="0.9"/><line x1="470" y1="203.7" x2="470" y2="207.3" stroke="#27397F" stroke-width="0.9"/><line x1="475" y1="205.9" x2="475" y2="209.5" stroke="#27397F" stroke-width="0.9"/><line x1="490.6" y1="210.1" x2="490.6" y2="213.7" stroke="#27397F" stroke-width="0.9"/><line x1="493.5" y1="210.1" x2="493.5" y2="213.7" stroke="#27397F" stroke-width="0.9"/><line x1="496.4" y1="210.1" x2="496.4" y2="213.7" stroke="#27397F" stroke-width="0.9"/><line x1="499.2" y1="210.1" x2="499.2" y2="213.7" stroke="#27397F" stroke-width="0.9"/><line x1="502" y1="210.1" x2="502" y2="213.7" stroke="#27397F" stroke-width="0.9"/><line x1="509.9" y1="220.6" x2="509.9" y2="224.2" stroke="#27397F" stroke-width="0.9"/><line x1="527.7" y1="220.6" x2="527.7" y2="224.2" stroke="#27397F" stroke-width="0.9"/><line x1="426" y1="171" x2="426" y2="174.6" stroke="#EC3D2A" stroke-width="0.9"/><line x1="430" y1="180" x2="430" y2="183.6" stroke="#EC3D2A" stroke-width="0.9"/><line x1="434" y1="191.6" x2="434" y2="195.2" stroke="#EC3D2A" stroke-width="0.9"/><line x1="441" y1="208" x2="441" y2="211.6" stroke="#EC3D2A" stroke-width="0.9"/><line x1="444" y1="214" x2="444" y2="217.6" stroke="#EC3D2A" stroke-width="0.9"/><line x1="447" y1="217.3" x2="447" y2="220.9" stroke="#EC3D2A" stroke-width="0.9"/><line x1="458" y1="226.6" x2="458" y2="230.2" stroke="#EC3D2A" stroke-width="0.9"/><line x1="460" y1="226.6" x2="460" y2="230.2" stroke="#EC3D2A" stroke-width="0.9"/><line x1="470" y1="226.6" x2="470" y2="230.2" stroke="#EC3D2A" stroke-width="0.9"/><line x1="477.6" y1="166" x2="487.6" y2="166" stroke="#EC3D2A" stroke-width="1.6"/><line x1="482.6" y1="164" x2="482.6" y2="167.6" stroke="#EC3D2A" stroke-width="0.9"/><line x1="477.6" y1="175.3" x2="487.6" y2="175.3" stroke="#27397F" stroke-width="1.6"/><line x1="482.6" y1="173.3" x2="482.6" y2="176.9" stroke="#27397F" stroke-width="0.9"/><text x="491.6" y="168" font-size="5.6" text-anchor="start" fill="#222" font-weight="normal" font-family="Liberation Sans" stroke="#222" stroke-width="0.15">High risk</text><text x="491.6" y="177.3" font-size="5.6" text-anchor="start" fill="#222" font-weight="normal" font-family="Liberation Sans" stroke="#222" stroke-width="0.15">Low risk</text><text x="479.7" y="186.6" font-size="5.45" text-anchor="start" fill="#222" font-weight="normal" font-family="Liberation Sans" stroke="#222" stroke-width="0.15">Log-rank P&lt;0.001</text><line x1="414.7" y1="262" x2="414.7" y2="284" stroke="#444" stroke-width="1"/><line x1="414.7" y1="284" x2="539.9" y2="284" stroke="#444" stroke-width="1"/><line x1="414.7" y1="268" x2="412.7" y2="268" stroke="#666666" stroke-width="0.8"/><line x1="414.7" y1="278" x2="412.7" y2="278" stroke="#666666" stroke-width="0.8"/><text x="0" y="0" font-size="8" text-anchor="end" fill="#EA4535" font-weight="normal" font-family="Liberation Sans" transform="translate(411.4 270) scale(0.9 1)" stroke="#EA4535" stroke-width="0.08">High risk</text><text x="0" y="0" font-size="8" text-anchor="end" fill="#36498C" font-weight="normal" font-family="Liberation Sans" transform="translate(411.4 280) scale(0.9 1)" stroke="#36498C" stroke-width="0.08">Low risk</text><text x="0" y="0" font-size="8.3" text-anchor="middle" fill="#EA4535" font-weight="normal" font-family="Liberation Sans" transform="translate(420.3 271) scale(0.9 1)" stroke="#EA4535" stroke-width="0.05">81</text><text x="0" y="0" font-size="8.3" text-anchor="middle" fill="#36498C" font-weight="normal" font-family="Liberation Sans" transform="translate(420.3 281) scale(0.9 1)" stroke="#36498C" stroke-width="0.05">97</text><line x1="420.3" y1="284" x2="420.3" y2="286.2" stroke="#666666" stroke-width="0.8"/><text x="0" y="0" font-size="7.8" text-anchor="middle" fill="#222" font-weight="normal" font-family="Liberation Sans" transform="translate(420.3 292.5) scale(0.92 1)" stroke="#222" stroke-width="0.15">0</text><text x="0" y="0" font-size="8.3" text-anchor="middle" fill="#EA4535" font-weight="normal" font-family="Liberation Sans" transform="translate(434.55 271) scale(0.9 1)" stroke="#EA4535" stroke-width="0.05">42</text><text x="0" y="0" font-size="8.3" text-anchor="middle" fill="#36498C" font-weight="normal" font-family="Liberation Sans" transform="translate(434.55 281) scale(0.9 1)" stroke="#36498C" stroke-width="0.05">73</text><line x1="434.55" y1="284" x2="434.55" y2="286.2" stroke="#666666" stroke-width="0.8"/><text x="0" y="0" font-size="7.8" text-anchor="middle" fill="#222" font-weight="normal" font-family="Liberation Sans" transform="translate(434.55 292.5) scale(0.92 1)" stroke="#222" stroke-width="0.15">1</text><text x="0" y="0" font-size="8.3" text-anchor="middle" fill="#EA4535" font-weight="normal" font-family="Liberation Sans" transform="translate(448.8 271) scale(0.9 1)" stroke="#EA4535" stroke-width="0.05">9</text><text x="0" y="0" font-size="8.3" text-anchor="middle" fill="#36498C" font-weight="normal" font-family="Liberation Sans" transform="translate(448.8 281) scale(0.9 1)" stroke="#36498C" stroke-width="0.05">27</text><line x1="448.8" y1="284" x2="448.8" y2="286.2" stroke="#666666" stroke-width="0.8"/><text x="0" y="0" font-size="7.8" text-anchor="middle" fill="#222" font-weight="normal" font-family="Liberation Sans" transform="translate(448.8 292.5) scale(0.92 1)" stroke="#222" stroke-width="0.15">2</text><text x="0" y="0" font-size="8.3" text-anchor="middle" fill="#EA4535" font-weight="normal" font-family="Liberation Sans" transform="translate(463.05 271) scale(0.9 1)" stroke="#EA4535" stroke-width="0.05">2</text><text x="0" y="0" font-size="8.3" text-anchor="middle" fill="#36498C" font-weight="normal" font-family="Liberation Sans" transform="translate(463.05 281) scale(0.9 1)" stroke="#36498C" stroke-width="0.05">18</text><line x1="463.05" y1="284" x2="463.05" y2="286.2" stroke="#666666" stroke-width="0.8"/><text x="0" y="0" font-size="7.8" text-anchor="middle" fill="#222" font-weight="normal" font-family="Liberation Sans" transform="translate(463.05 292.5) scale(0.92 1)" stroke="#222" stroke-width="0.15">3</text><text x="0" y="0" font-size="8.3" text-anchor="middle" fill="#EA4535" font-weight="normal" font-family="Liberation Sans" transform="translate(477.3 271) scale(0.9 1)" stroke="#EA4535" stroke-width="0.05">1</text><text x="0" y="0" font-size="8.3" text-anchor="middle" fill="#36498C" font-weight="normal" font-family="Liberation Sans" transform="translate(477.3 281) scale(0.9 1)" stroke="#36498C" stroke-width="0.05">10</text><line x1="477.3" y1="284" x2="477.3" y2="286.2" stroke="#666666" stroke-width="0.8"/><text x="0" y="0" font-size="7.8" text-anchor="middle" fill="#222" font-weight="normal" font-family="Liberation Sans" transform="translate(477.3 292.5) scale(0.92 1)" stroke="#222" stroke-width="0.15">4</text><text x="0" y="0" font-size="8.3" text-anchor="middle" fill="#EA4535" font-weight="normal" font-family="Liberation Sans" transform="translate(491.55 271) scale(0.9 1)" stroke="#EA4535" stroke-width="0.05">1</text><text x="0" y="0" font-size="8.3" text-anchor="middle" fill="#36498C" font-weight="normal" font-family="Liberation Sans" transform="translate(491.55 281) scale(0.9 1)" stroke="#36498C" stroke-width="0.05">7</text><line x1="491.55" y1="284" x2="491.55" y2="286.2" stroke="#666666" stroke-width="0.8"/><text x="0" y="0" font-size="7.8" text-anchor="middle" fill="#222" font-weight="normal" font-family="Liberation Sans" transform="translate(491.55 292.5) scale(0.92 1)" stroke="#222" stroke-width="0.15">5</text><text x="0" y="0" font-size="8.3" text-anchor="middle" fill="#EA4535" font-weight="normal" font-family="Liberation Sans" transform="translate(505.8 271) scale(0.9 1)" stroke="#EA4535" stroke-width="0.05">0</text><text x="0" y="0" font-size="8.3" text-anchor="middle" fill="#36498C" font-weight="normal" font-family="Liberation Sans" transform="translate(505.8 281) scale(0.9 1)" stroke="#36498C" stroke-width="0.05">2</text><line x1="505.8" y1="284" x2="505.8" y2="286.2" stroke="#666666" stroke-width="0.8"/><text x="0" y="0" font-size="7.8" text-anchor="middle" fill="#222" font-weight="normal" font-family="Liberation Sans" transform="translate(505.8 292.5) scale(0.92 1)" stroke="#222" stroke-width="0.15">6</text><text x="0" y="0" font-size="8.3" text-anchor="middle" fill="#EA4535" font-weight="normal" font-family="Liberation Sans" transform="translate(520.05 271) scale(0.9 1)" stroke="#EA4535" stroke-width="0.05">0</text><text x="0" y="0" font-size="8.3" text-anchor="middle" fill="#36498C" font-weight="normal" font-family="Liberation Sans" transform="translate(520.05 281) scale(0.9 1)" stroke="#36498C" stroke-width="0.05">1</text><line x1="520.05" y1="284" x2="520.05" y2="286.2" stroke="#666666" stroke-width="0.8"/><text x="0" y="0" font-size="7.8" text-anchor="middle" fill="#222" font-weight="normal" font-family="Liberation Sans" transform="translate(520.05 292.5) scale(0.92 1)" stroke="#222" stroke-width="0.15">7</text><text x="0" y="0" font-size="8.3" text-anchor="middle" fill="#EA4535" font-weight="normal" font-family="Liberation Sans" transform="translate(534.3 271) scale(0.9 1)" stroke="#EA4535" stroke-width="0.05">0</text><text x="0" y="0" font-size="8.3" text-anchor="middle" fill="#36498C" font-weight="normal" font-family="Liberation Sans" transform="translate(534.3 281) scale(0.9 1)" stroke="#36498C" stroke-width="0.05">0</text><line x1="534.3" y1="284" x2="534.3" y2="286.2" stroke="#666666" stroke-width="0.8"/><text x="0" y="0" font-size="7.8" text-anchor="middle" fill="#222" font-weight="normal" font-family="Liberation Sans" transform="translate(534.3 292.5) scale(0.92 1)" stroke="#222" stroke-width="0.15">8</text><text x="0" y="0" font-size="8.3" text-anchor="middle" fill="#111" font-weight="normal" font-family="Liberation Sans" transform="translate(379.6 272.2) scale(0.93 1) rotate(-90)" stroke="#111" stroke-width="0.15">Risk</text><text x="477.3" y="301.8" font-size="8.55" text-anchor="middle" fill="#222" font-weight="normal" font-family="Liberation Sans" stroke="#222" stroke-width="0.15">Time(years)</text><text x="58.7" y="315.7" font-size="8.45" text-anchor="start" fill="#111" font-weight="bold" font-family="Liberation Serif" stroke="#111" stroke-width="0.15">Training group</text><line x1="55" y1="317.3" x2="55" y2="408.8" stroke="#444" stroke-width="1"/><line x1="55" y1="408.8" x2="180.7" y2="408.8" stroke="#444" stroke-width="1"/><line x1="55" y1="321.4" x2="52.8" y2="321.4" stroke="#666666" stroke-width="0.8"/><text x="52.1" y="323.8" font-size="7.3" text-anchor="end" fill="#333" font-weight="normal" font-family="Liberation Sans" stroke="#333" stroke-width="0.15">1.00</text><line x1="55" y1="342.3" x2="52.8" y2="342.3" stroke="#666666" stroke-width="0.8"/><text x="52.1" y="344.7" font-size="7.3" text-anchor="end" fill="#333" font-weight="normal" font-family="Liberation Sans" stroke="#333" stroke-width="0.15">0.75</text><line x1="55" y1="363.2" x2="52.8" y2="363.2" stroke="#666666" stroke-width="0.8"/><text x="52.1" y="365.6" font-size="7.3" text-anchor="end" fill="#333" font-weight="normal" font-family="Liberation Sans" stroke="#333" stroke-width="0.15">0.50</text><line x1="55" y1="384.1" x2="52.8" y2="384.1" stroke="#666666" stroke-width="0.8"/><text x="52.1" y="386.5" font-size="7.3" text-anchor="end" fill="#333" font-weight="normal" font-family="Liberation Sans" stroke="#333" stroke-width="0.15">0.25</text><line x1="55" y1="405" x2="52.8" y2="405" stroke="#666666" stroke-width="0.8"/><text x="52.1" y="407.4" font-size="7.3" text-anchor="end" fill="#333" font-weight="normal" font-family="Liberation Sans" stroke="#333" stroke-width="0.15">0.00</text><line x1="60.7" y1="408.8" x2="60.7" y2="411" stroke="#666666" stroke-width="0.8"/><text x="0" y="0" font-size="7.8" text-anchor="middle" fill="#222" font-weight="normal" font-family="Liberation Sans" transform="translate(60.7 417.8) scale(0.92 1)" stroke="#222" stroke-width="0.15">0</text><line x1="83.45" y1="408.8" x2="83.45" y2="411" stroke="#666666" stroke-width="0.8"/><text x="0" y="0" font-size="7.8" text-anchor="middle" fill="#222" font-weight="normal" font-family="Liberation Sans" transform="translate(83.45 417.8) scale(0.92 1)" stroke="#222" stroke-width="0.15">1</text><line x1="106.2" y1="408.8" x2="106.2" y2="411" stroke="#666666" stroke-width="0.8"/><text x="0" y="0" font-size="7.8" text-anchor="middle" fill="#222" font-weight="normal" font-family="Liberation Sans" transform="translate(106.2 417.8) scale(0.92 1)" stroke="#222" stroke-width="0.15">2</text><line x1="128.95" y1="408.8" x2="128.95" y2="411" stroke="#666666" stroke-width="0.8"/><text x="0" y="0" font-size="7.8" text-anchor="middle" fill="#222" font-weight="normal" font-family="Liberation Sans" transform="translate(128.95 417.8) scale(0.92 1)" stroke="#222" stroke-width="0.15">3</text><line x1="151.7" y1="408.8" x2="151.7" y2="411" stroke="#666666" stroke-width="0.8"/><text x="0" y="0" font-size="7.8" text-anchor="middle" fill="#222" font-weight="normal" font-family="Liberation Sans" transform="translate(151.7 417.8) scale(0.92 1)" stroke="#222" stroke-width="0.15">4</text><line x1="174.45" y1="408.8" x2="174.45" y2="411" stroke="#666666" stroke-width="0.8"/><text x="0" y="0" font-size="7.8" text-anchor="middle" fill="#222" font-weight="normal" font-family="Liberation Sans" transform="translate(174.45 417.8) scale(0.92 1)" stroke="#222" stroke-width="0.15">5</text><text x="0" y="0" font-size="8.4" text-anchor="middle" fill="#111" font-weight="normal" font-family="Liberation Sans" transform="translate(19.6 363) scale(0.92 1) rotate(-90)" stroke="#111" stroke-width="0.15">Progression Free Interval</text><path d="M60.7 321.4 H69.3 H70 V323.2 H70.7 V325 H71.25 V326.98 H71.8 V328.95 H72.35 V330.92 H72.9 V332.9 H73.83 V334.57 H74.77 V336.23 H75.7 V337.9 H78.6 V340 H82.9 V342.1 H83.95 V343.9 H85 V345.7 H88.6 V347.9 H89.3 V349.3 H90 V350.7 H91.45 V352.15 H92.9 V353.6 H93.6 V355.75 H94.3 V357.9 H95.35 V359.3 H96.4 V360.7 H100.7 V362.9 H103.55 V364.3 H106.4 V365.7 H109.65 V367.5 H112.9 V369.3 H122.9 V372.1 H142.1 V380.3 H160.7 V386 H180.7" stroke="#27397F" stroke-width="1.4" fill="none" stroke-linejoin="miter"/><path d="M60.7 321.4 H62.9 V323.6 H64.3 V325.75 H65.7 V327.9 H66.14 V329.6 H66.58 V331.3 H67.02 V333 H67.46 V334.7 H67.9 V336.4 H68.6 V338.55 H69.3 V340.7 H70 V342.37 H70.7 V344.03 H71.4 V345.7 H73.2 V347.15 H75 V348.6 H76.45 V350.35 H77.9 V352.1 H78.13 V353.77 H78.37 V355.43 H78.6 V357.1 H79.3 V359.03 H80 V360.97 H80.7 V362.9 H83.6 V365 H83.72 V366.78 H83.83 V368.57 H83.95 V370.35 H84.07 V372.13 H84.18 V373.92 H84.3 V375.7 H85 V377.15 H85.7 V378.6 H88.6 V380.7 H89.65 V382.15 H90.7 V383.6 H94.3 V384.3 H94.65 V385.85 H95 V387.4 H106.4 V393.1 H155.4 V405" stroke="#EC3D2A" stroke-width="1.4" fill="none" stroke-linejoin="miter"/><line x1="62" y1="319.4" x2="62" y2="323" stroke="#27397F" stroke-width="0.9"/><line x1="65" y1="319.4" x2="65" y2="323" stroke="#27397F" stroke-width="0.9"/><line x1="78" y1="338" x2="78" y2="341.6" stroke="#27397F" stroke-width="0.9"/><line x1="83" y1="340.1" x2="83" y2="343.7" stroke="#27397F" stroke-width="0.9"/><line x1="88" y1="345.9" x2="88" y2="349.5" stroke="#27397F" stroke-width="0.9"/><line x1="92" y1="351.6" x2="92" y2="355.2" stroke="#27397F" stroke-width="0.9"/><line x1="125" y1="370.1" x2="125" y2="373.7" stroke="#27397F" stroke-width="0.9"/><line x1="130" y1="370.1" x2="130" y2="373.7" stroke="#27397F" stroke-width="0.9"/><line x1="147.9" y1="378.3" x2="147.9" y2="381.9" stroke="#27397F" stroke-width="0.9"/><line x1="157.1" y1="378.3" x2="157.1" y2="381.9" stroke="#27397F" stroke-width="0.9"/><line x1="172.9" y1="384" x2="172.9" y2="387.6" stroke="#27397F" stroke-width="0.9"/><line x1="66" y1="326" x2="66" y2="329.6" stroke="#EC3D2A" stroke-width="0.9"/><line x1="73" y1="344" x2="73" y2="347.6" stroke="#EC3D2A" stroke-width="0.9"/><line x1="81" y1="361" x2="81" y2="364.6" stroke="#EC3D2A" stroke-width="0.9"/><line x1="88" y1="378.7" x2="88" y2="382.3" stroke="#EC3D2A" stroke-width="0.9"/><line x1="93" y1="382.3" x2="93" y2="385.9" stroke="#EC3D2A" stroke-width="0.9"/><line x1="103" y1="385.4" x2="103" y2="389" stroke="#EC3D2A" stroke-width="0.9"/><line x1="130" y1="391.1" x2="130" y2="394.7" stroke="#EC3D2A" stroke-width="0.9"/><line x1="122.9" y1="328.3" x2="132.9" y2="328.3" stroke="#EC3D2A" stroke-width="1.6"/><line x1="127.9" y1="326.3" x2="127.9" y2="329.9" stroke="#EC3D2A" stroke-width="0.9"/><line x1="122.9" y1="337.6" x2="132.9" y2="337.6" stroke="#27397F" stroke-width="1.6"/><line x1="127.9" y1="335.6" x2="127.9" y2="339.2" stroke="#27397F" stroke-width="0.9"/><text x="136.9" y="330.3" font-size="5.6" text-anchor="start" fill="#222" font-weight="normal" font-family="Liberation Sans" stroke="#222" stroke-width="0.15">High risk</text><text x="136.9" y="339.6" font-size="5.6" text-anchor="start" fill="#222" font-weight="normal" font-family="Liberation Sans" stroke="#222" stroke-width="0.15">Low risk</text><text x="125" y="348.9" font-size="5.45" text-anchor="start" fill="#222" font-weight="normal" font-family="Liberation Sans" stroke="#222" stroke-width="0.15">Log-rank P&lt;0.001</text><line x1="55" y1="423.6" x2="55" y2="444.6" stroke="#444" stroke-width="1"/><line x1="55" y1="444.6" x2="180.7" y2="444.6" stroke="#444" stroke-width="1"/><line x1="55" y1="429.2" x2="53" y2="429.2" stroke="#666666" stroke-width="0.8"/><line x1="55" y1="439.2" x2="53" y2="439.2" stroke="#666666" stroke-width="0.8"/><text x="0" y="0" font-size="8" text-anchor="end" fill="#EA4535" font-weight="normal" font-family="Liberation Sans" transform="translate(51.7 431.2) scale(0.9 1)" stroke="#EA4535" stroke-width="0.08">High risk</text><text x="0" y="0" font-size="8" text-anchor="end" fill="#36498C" font-weight="normal" font-family="Liberation Sans" transform="translate(51.7 441.2) scale(0.9 1)" stroke="#36498C" stroke-width="0.08">Low risk</text><text x="0" y="0" font-size="8.3" text-anchor="middle" fill="#EA4535" font-weight="normal" font-family="Liberation Sans" transform="translate(60.7 432.2) scale(0.9 1)" stroke="#EA4535" stroke-width="0.05">44</text><text x="0" y="0" font-size="8.3" text-anchor="middle" fill="#36498C" font-weight="normal" font-family="Liberation Sans" transform="translate(60.7 442.2) scale(0.9 1)" stroke="#36498C" stroke-width="0.05">45</text><line x1="60.7" y1="444.6" x2="60.7" y2="446.8" stroke="#666666" stroke-width="0.8"/><text x="0" y="0" font-size="7.8" text-anchor="middle" fill="#222" font-weight="normal" font-family="Liberation Sans" transform="translate(60.7 453.9) scale(0.92 1)" stroke="#222" stroke-width="0.15">0</text><text x="0" y="0" font-size="8.3" text-anchor="middle" fill="#EA4535" font-weight="normal" font-family="Liberation Sans" transform="translate(83.45 432.2) scale(0.9 1)" stroke="#EA4535" stroke-width="0.05">15</text><text x="0" y="0" font-size="8.3" text-anchor="middle" fill="#36498C" font-weight="normal" font-family="Liberation Sans" transform="translate(83.45 442.2) scale(0.9 1)" stroke="#36498C" stroke-width="0.05">28</text><line x1="83.45" y1="444.6" x2="83.45" y2="446.8" stroke="#666666" stroke-width="0.8"/><text x="0" y="0" font-size="7.8" text-anchor="middle" fill="#222" font-weight="normal" font-family="Liberation Sans" transform="translate(83.45 453.9) scale(0.92 1)" stroke="#222" stroke-width="0.15">1</text><text x="0" y="0" font-size="8.3" text-anchor="middle" fill="#EA4535" font-weight="normal" font-family="Liberation Sans" transform="translate(106.2 432.2) scale(0.9 1)" stroke="#EA4535" stroke-width="0.05">3</text><text x="0" y="0" font-size="8.3" text-anchor="middle" fill="#36498C" font-weight="normal" font-family="Liberation Sans" transform="translate(106.2 442.2) scale(0.9 1)" stroke="#36498C" stroke-width="0.05">14</text><line x1="106.2" y1="444.6" x2="106.2" y2="446.8" stroke="#666666" stroke-width="0.8"/><text x="0" y="0" font-size="7.8" text-anchor="middle" fill="#222" font-weight="normal" font-family="Liberation Sans" transform="translate(106.2 453.9) scale(0.92 1)" stroke="#222" stroke-width="0.15">2</text><text x="0" y="0" font-size="8.3" text-anchor="middle" fill="#EA4535" font-weight="normal" font-family="Liberation Sans" transform="translate(128.95 432.2) scale(0.9 1)" stroke="#EA4535" stroke-width="0.05">1</text><text x="0" y="0" font-size="8.3" text-anchor="middle" fill="#36498C" font-weight="normal" font-family="Liberation Sans" transform="translate(128.95 442.2) scale(0.9 1)" stroke="#36498C" stroke-width="0.05">9</text><line x1="128.95" y1="444.6" x2="128.95" y2="446.8" stroke="#666666" stroke-width="0.8"/><text x="0" y="0" font-size="7.8" text-anchor="middle" fill="#222" font-weight="normal" font-family="Liberation Sans" transform="translate(128.95 453.9) scale(0.92 1)" stroke="#222" stroke-width="0.15">3</text><text x="0" y="0" font-size="8.3" text-anchor="middle" fill="#EA4535" font-weight="normal" font-family="Liberation Sans" transform="translate(151.7 432.2) scale(0.9 1)" stroke="#EA4535" stroke-width="0.05">1</text><text x="0" y="0" font-size="8.3" text-anchor="middle" fill="#36498C" font-weight="normal" font-family="Liberation Sans" transform="translate(151.7 442.2) scale(0.9 1)" stroke="#36498C" stroke-width="0.05">5</text><line x1="151.7" y1="444.6" x2="151.7" y2="446.8" stroke="#666666" stroke-width="0.8"/><text x="0" y="0" font-size="7.8" text-anchor="middle" fill="#222" font-weight="normal" font-family="Liberation Sans" transform="translate(151.7 453.9) scale(0.92 1)" stroke="#222" stroke-width="0.15">4</text><text x="0" y="0" font-size="8.3" text-anchor="middle" fill="#EA4535" font-weight="normal" font-family="Liberation Sans" transform="translate(174.45 432.2) scale(0.9 1)" stroke="#EA4535" stroke-width="0.05">0</text><text x="0" y="0" font-size="8.3" text-anchor="middle" fill="#36498C" font-weight="normal" font-family="Liberation Sans" transform="translate(174.45 442.2) scale(0.9 1)" stroke="#36498C" stroke-width="0.05">2</text><line x1="174.45" y1="444.6" x2="174.45" y2="446.8" stroke="#666666" stroke-width="0.8"/><text x="0" y="0" font-size="7.8" text-anchor="middle" fill="#222" font-weight="normal" font-family="Liberation Sans" transform="translate(174.45 453.9) scale(0.92 1)" stroke="#222" stroke-width="0.15">5</text><text x="0" y="0" font-size="8.3" text-anchor="middle" fill="#111" font-weight="normal" font-family="Liberation Sans" transform="translate(19.6 433.4) scale(0.93 1) rotate(-90)" stroke="#111" stroke-width="0.15">Risk</text><text x="117.57" y="463.2" font-size="8.55" text-anchor="middle" fill="#222" font-weight="normal" font-family="Liberation Sans" stroke="#222" stroke-width="0.15">Time(years)</text><text x="241" y="315.7" font-size="8.45" text-anchor="start" fill="#111" font-weight="bold" font-family="Liberation Serif" stroke="#111" stroke-width="0.15">Validation group</text><line x1="237.5" y1="317.3" x2="237.5" y2="408.8" stroke="#444" stroke-width="1"/><line x1="237.5" y1="408.8" x2="362.1" y2="408.8" stroke="#444" stroke-width="1"/><line x1="237.5" y1="321.4" x2="235.3" y2="321.4" stroke="#666666" stroke-width="0.8"/><text x="234.6" y="323.8" font-size="7.3" text-anchor="end" fill="#333" font-weight="normal" font-family="Liberation Sans" stroke="#333" stroke-width="0.15">1.00</text><line x1="237.5" y1="342.3" x2="235.3" y2="342.3" stroke="#666666" stroke-width="0.8"/><text x="234.6" y="344.7" font-size="7.3" text-anchor="end" fill="#333" font-weight="normal" font-family="Liberation Sans" stroke="#333" stroke-width="0.15">0.75</text><line x1="237.5" y1="363.2" x2="235.3" y2="363.2" stroke="#666666" stroke-width="0.8"/><text x="234.6" y="365.6" font-size="7.3" text-anchor="end" fill="#333" font-weight="normal" font-family="Liberation Sans" stroke="#333" stroke-width="0.15">0.50</text><line x1="237.5" y1="384.1" x2="235.3" y2="384.1" stroke="#666666" stroke-width="0.8"/><text x="234.6" y="386.5" font-size="7.3" text-anchor="end" fill="#333" font-weight="normal" font-family="Liberation Sans" stroke="#333" stroke-width="0.15">0.25</text><line x1="237.5" y1="405" x2="235.3" y2="405" stroke="#666666" stroke-width="0.8"/><text x="234.6" y="407.4" font-size="7.3" text-anchor="end" fill="#333" font-weight="normal" font-family="Liberation Sans" stroke="#333" stroke-width="0.15">0.00</text><line x1="242.4" y1="408.8" x2="242.4" y2="411" stroke="#666666" stroke-width="0.8"/><text x="0" y="0" font-size="7.8" text-anchor="middle" fill="#222" font-weight="normal" font-family="Liberation Sans" transform="translate(242.4 417.8) scale(0.92 1)" stroke="#222" stroke-width="0.15">0</text><line x1="256.7" y1="408.8" x2="256.7" y2="411" stroke="#666666" stroke-width="0.8"/><text x="0" y="0" font-size="7.8" text-anchor="middle" fill="#222" font-weight="normal" font-family="Liberation Sans" transform="translate(256.7 417.8) scale(0.92 1)" stroke="#222" stroke-width="0.15">1</text><line x1="271" y1="408.8" x2="271" y2="411" stroke="#666666" stroke-width="0.8"/><text x="0" y="0" font-size="7.8" text-anchor="middle" fill="#222" font-weight="normal" font-family="Liberation Sans" transform="translate(271 417.8) scale(0.92 1)" stroke="#222" stroke-width="0.15">2</text><line x1="285.3" y1="408.8" x2="285.3" y2="411" stroke="#666666" stroke-width="0.8"/><text x="0" y="0" font-size="7.8" text-anchor="middle" fill="#222" font-weight="normal" font-family="Liberation Sans" transform="translate(285.3 417.8) scale(0.92 1)" stroke="#222" stroke-width="0.15">3</text><line x1="299.6" y1="408.8" x2="299.6" y2="411" stroke="#666666" stroke-width="0.8"/><text x="0" y="0" font-size="7.8" text-anchor="middle" fill="#222" font-weight="normal" font-family="Liberation Sans" transform="translate(299.6 417.8) scale(0.92 1)" stroke="#222" stroke-width="0.15">4</text><line x1="313.9" y1="408.8" x2="313.9" y2="411" stroke="#666666" stroke-width="0.8"/><text x="0" y="0" font-size="7.8" text-anchor="middle" fill="#222" font-weight="normal" font-family="Liberation Sans" transform="translate(313.9 417.8) scale(0.92 1)" stroke="#222" stroke-width="0.15">5</text><line x1="328.2" y1="408.8" x2="328.2" y2="411" stroke="#666666" stroke-width="0.8"/><text x="0" y="0" font-size="7.8" text-anchor="middle" fill="#222" font-weight="normal" font-family="Liberation Sans" transform="translate(328.2 417.8) scale(0.92 1)" stroke="#222" stroke-width="0.15">6</text><line x1="342.5" y1="408.8" x2="342.5" y2="411" stroke="#666666" stroke-width="0.8"/><text x="0" y="0" font-size="7.8" text-anchor="middle" fill="#222" font-weight="normal" font-family="Liberation Sans" transform="translate(342.5 417.8) scale(0.92 1)" stroke="#222" stroke-width="0.15">7</text><line x1="356.8" y1="408.8" x2="356.8" y2="411" stroke="#666666" stroke-width="0.8"/><text x="0" y="0" font-size="7.8" text-anchor="middle" fill="#222" font-weight="normal" font-family="Liberation Sans" transform="translate(356.8 417.8) scale(0.92 1)" stroke="#222" stroke-width="0.15">8</text><text x="0" y="0" font-size="8.4" text-anchor="middle" fill="#111" font-weight="normal" font-family="Liberation Sans" transform="translate(201.6 363) scale(0.92 1) rotate(-90)" stroke="#111" stroke-width="0.15">Progression Free Interval</text><path d="M242.4 321.4 H247 V322.9 H251.3 V325 H252.7 V326.8 H254.1 V328.6 H255.2 V330.75 H256.3 V332.9 H256.77 V334.8 H257.23 V336.7 H257.7 V338.6 H258.05 V340.2 H258.4 V341.8 H258.75 V343.4 H259.1 V345 H259.83 V346.67 H260.57 V348.33 H261.3 V350 H261.77 V351.9 H262.23 V353.8 H262.7 V355.7 H263.25 V357.5 H263.8 V359.3 H264.35 V361.1 H264.9 V362.9 H265.95 V365 H267 V367.1 H270.6 V367.9 V372.1 H281.3 V375.7 H350.7" stroke="#27397F" stroke-width="1.4" fill="none" stroke-linejoin="miter"/><path d="M242.4 321.4 H244 V322.85 H245.6 V324.3 H245.88 V326.16 H246.16 V328.02 H246.44 V329.88 H246.72 V331.74 H247 V333.6 H247.23 V335.27 H247.47 V336.93 H247.7 V338.6 H247.93 V340.27 H248.17 V341.93 H248.4 V343.6 H248.95 V345.38 H249.5 V347.15 H250.05 V348.93 H250.6 V350.7 H251.3 V352.37 H252 V354.03 H252.7 V355.7 H253.42 V357.5 H254.15 V359.3 H254.88 V361.1 H255.6 V362.9 H257 V365 H258.4 V367.1 H259.85 V368.9 H261.3 V370.7 H261.77 V372.6 H262.23 V374.5 H262.7 V376.4 H263.43 V378.3 H264.17 V380.2 H264.9 V382.1 H265.25 V383.73 H265.6 V385.35 H265.95 V386.98 H266.3 V388.6 H268.4 V390.7 H270.6 V392.9 H271.07 V394.8 H271.53 V396.7 H272 V398.6 H292.7" stroke="#EC3D2A" stroke-width="1.4" fill="none" stroke-linejoin="miter"/><line x1="244" y1="319.4" x2="244" y2="323" stroke="#27397F" stroke-width="0.9"/><line x1="250" y1="323" x2="250" y2="326.6" stroke="#27397F" stroke-width="0.9"/><line x1="255" y1="328" x2="255" y2="331.6" stroke="#27397F" stroke-width="0.9"/><line x1="258" y1="338" x2="258" y2="341.6" stroke="#27397F" stroke-width="0.9"/><line x1="260" y1="345" x2="260" y2="348.6" stroke="#27397F" stroke-width="0.9"/><line x1="263" y1="355" x2="263" y2="358.6" stroke="#27397F" stroke-width="0.9"/><line x1="268" y1="365.5" x2="268" y2="369.1" stroke="#27397F" stroke-width="0.9"/><line x1="270" y1="365.9" x2="270" y2="369.5" stroke="#27397F" stroke-width="0.9"/><line x1="286" y1="373.7" x2="286" y2="377.3" stroke="#27397F" stroke-width="0.9"/><line x1="289" y1="373.7" x2="289" y2="377.3" stroke="#27397F" stroke-width="0.9"/><line x1="292" y1="373.7" x2="292" y2="377.3" stroke="#27397F" stroke-width="0.9"/><line x1="315" y1="373.7" x2="315" y2="377.3" stroke="#27397F" stroke-width="0.9"/><line x1="324.3" y1="373.7" x2="324.3" y2="377.3" stroke="#27397F" stroke-width="0.9"/><line x1="350" y1="373.7" x2="350" y2="377.3" stroke="#27397F" stroke-width="0.9"/><line x1="253" y1="353.7" x2="253" y2="357.3" stroke="#EC3D2A" stroke-width="0.9"/><line x1="259" y1="365.1" x2="259" y2="368.7" stroke="#EC3D2A" stroke-width="0.9"/><line x1="262" y1="368.7" x2="262" y2="372.3" stroke="#EC3D2A" stroke-width="0.9"/><line x1="268" y1="388.7" x2="268" y2="392.3" stroke="#EC3D2A" stroke-width="0.9"/><line x1="291.7" y1="396.6" x2="291.7" y2="400.2" stroke="#EC3D2A" stroke-width="0.9"/><line x1="302.5" y1="328.3" x2="312.5" y2="328.3" stroke="#EC3D2A" stroke-width="1.6"/><line x1="307.5" y1="326.3" x2="307.5" y2="329.9" stroke="#EC3D2A" stroke-width="0.9"/><line x1="302.5" y1="337.6" x2="312.5" y2="337.6" stroke="#27397F" stroke-width="1.6"/><line x1="307.5" y1="335.6" x2="307.5" y2="339.2" stroke="#27397F" stroke-width="0.9"/><text x="316.5" y="330.3" font-size="5.6" text-anchor="start" fill="#222" font-weight="normal" font-family="Liberation Sans" stroke="#222" stroke-width="0.15">High risk</text><text x="316.5" y="339.6" font-size="5.6" text-anchor="start" fill="#222" font-weight="normal" font-family="Liberation Sans" stroke="#222" stroke-width="0.15">Low risk</text><text x="304.6" y="348.9" font-size="5.45" text-anchor="start" fill="#222" font-weight="normal" font-family="Liberation Sans" stroke="#222" stroke-width="0.15">Log-rank P&lt;0.001</text><text x="244.9" y="389.3" font-size="3.5" text-anchor="start" fill="#222" font-weight="normal" font-family="Liberation Sans" stroke="#222" stroke-width="0.07">p = 0.00061</text><line x1="237.5" y1="423.6" x2="237.5" y2="444.6" stroke="#444" stroke-width="1"/><line x1="237.5" y1="444.6" x2="362.1" y2="444.6" stroke="#444" stroke-width="1"/><line x1="237.5" y1="429.2" x2="235.5" y2="429.2" stroke="#666666" stroke-width="0.8"/><line x1="237.5" y1="439.2" x2="235.5" y2="439.2" stroke="#666666" stroke-width="0.8"/><text x="0" y="0" font-size="8" text-anchor="end" fill="#EA4535" font-weight="normal" font-family="Liberation Sans" transform="translate(234.2 431.2) scale(0.9 1)" stroke="#EA4535" stroke-width="0.08">High risk</text><text x="0" y="0" font-size="8" text-anchor="end" fill="#36498C" font-weight="normal" font-family="Liberation Sans" transform="translate(234.2 441.2) scale(0.9 1)" stroke="#36498C" stroke-width="0.08">Low risk</text><text x="0" y="0" font-size="8.3" text-anchor="middle" fill="#EA4535" font-weight="normal" font-family="Liberation Sans" transform="translate(242.4 432.2) scale(0.9 1)" stroke="#EA4535" stroke-width="0.05">37</text><text x="0" y="0" font-size="8.3" text-anchor="middle" fill="#36498C" font-weight="normal" font-family="Liberation Sans" transform="translate(242.4 442.2) scale(0.9 1)" stroke="#36498C" stroke-width="0.05">52</text><line x1="242.4" y1="444.6" x2="242.4" y2="446.8" stroke="#666666" stroke-width="0.8"/><text x="0" y="0" font-size="7.8" text-anchor="middle" fill="#222" font-weight="normal" font-family="Liberation Sans" transform="translate(242.4 453.9) scale(0.92 1)" stroke="#222" stroke-width="0.15">0</text><text x="0" y="0" font-size="8.3" text-anchor="middle" fill="#EA4535" font-weight="normal" font-family="Liberation Sans" transform="translate(256.7 432.2) scale(0.9 1)" stroke="#EA4535" stroke-width="0.05">14</text><text x="0" y="0" font-size="8.3" text-anchor="middle" fill="#36498C" font-weight="normal" font-family="Liberation Sans" transform="translate(256.7 442.2) scale(0.9 1)" stroke="#36498C" stroke-width="0.05">33</text><line x1="256.7" y1="444.6" x2="256.7" y2="446.8" stroke="#666666" stroke-width="0.8"/><text x="0" y="0" font-size="7.8" text-anchor="middle" fill="#222" font-weight="normal" font-family="Liberation Sans" transform="translate(256.7 453.9) scale(0.92 1)" stroke="#222" stroke-width="0.15">1</text><text x="0" y="0" font-size="8.3" text-anchor="middle" fill="#EA4535" font-weight="normal" font-family="Liberation Sans" transform="translate(271 432.2) scale(0.9 1)" stroke="#EA4535" stroke-width="0.05">2</text><text x="0" y="0" font-size="8.3" text-anchor="middle" fill="#36498C" font-weight="normal" font-family="Liberation Sans" transform="translate(271 442.2) scale(0.9 1)" stroke="#36498C" stroke-width="0.05">8</text><line x1="271" y1="444.6" x2="271" y2="446.8" stroke="#666666" stroke-width="0.8"/><text x="0" y="0" font-size="7.8" text-anchor="middle" fill="#222" font-weight="normal" font-family="Liberation Sans" transform="translate(271 453.9) scale(0.92 1)" stroke="#222" stroke-width="0.15">2</text><text x="0" y="0" font-size="8.3" text-anchor="middle" fill="#EA4535" font-weight="normal" font-family="Liberation Sans" transform="translate(285.3 432.2) scale(0.9 1)" stroke="#EA4535" stroke-width="0.05">1</text><text x="0" y="0" font-size="8.3" text-anchor="middle" fill="#36498C" font-weight="normal" font-family="Liberation Sans" transform="translate(285.3 442.2) scale(0.9 1)" stroke="#36498C" stroke-width="0.05">6</text><line x1="285.3" y1="444.6" x2="285.3" y2="446.8" stroke="#666666" stroke-width="0.8"/><text x="0" y="0" font-size="7.8" text-anchor="middle" fill="#222" font-weight="normal" font-family="Liberation Sans" transform="translate(285.3 453.9) scale(0.92 1)" stroke="#222" stroke-width="0.15">3</text><text x="0" y="0" font-size="8.3" text-anchor="middle" fill="#EA4535" font-weight="normal" font-family="Liberation Sans" transform="translate(299.6 432.2) scale(0.9 1)" stroke="#EA4535" stroke-width="0.05">0</text><text x="0" y="0" font-size="8.3" text-anchor="middle" fill="#36498C" font-weight="normal" font-family="Liberation Sans" transform="translate(299.6 442.2) scale(0.9 1)" stroke="#36498C" stroke-width="0.05">3</text><line x1="299.6" y1="444.6" x2="299.6" y2="446.8" stroke="#666666" stroke-width="0.8"/><text x="0" y="0" font-size="7.8" text-anchor="middle" fill="#222" font-weight="normal" font-family="Liberation Sans" transform="translate(299.6 453.9) scale(0.92 1)" stroke="#222" stroke-width="0.15">4</text><text x="0" y="0" font-size="8.3" text-anchor="middle" fill="#EA4535" font-weight="normal" font-family="Liberation Sans" transform="translate(313.9 432.2) scale(0.9 1)" stroke="#EA4535" stroke-width="0.05">0</text><text x="0" y="0" font-size="8.3" text-anchor="middle" fill="#36498C" font-weight="normal" font-family="Liberation Sans" transform="translate(313.9 442.2) scale(0.9 1)" stroke="#36498C" stroke-width="0.05">3</text><line x1="313.9" y1="444.6" x2="313.9" y2="446.8" stroke="#666666" stroke-width="0.8"/><text x="0" y="0" font-size="7.8" text-anchor="middle" fill="#222" font-weight="normal" font-family="Liberation Sans" transform="translate(313.9 453.9) scale(0.92 1)" stroke="#222" stroke-width="0.15">5</text><text x="0" y="0" font-size="8.3" text-anchor="middle" fill="#EA4535" font-weight="normal" font-family="Liberation Sans" transform="translate(328.2 432.2) scale(0.9 1)" stroke="#EA4535" stroke-width="0.05">0</text><text x="0" y="0" font-size="8.3" text-anchor="middle" fill="#36498C" font-weight="normal" font-family="Liberation Sans" transform="translate(328.2 442.2) scale(0.9 1)" stroke="#36498C" stroke-width="0.05">1</text><line x1="328.2" y1="444.6" x2="328.2" y2="446.8" stroke="#666666" stroke-width="0.8"/><text x="0" y="0" font-size="7.8" text-anchor="middle" fill="#222" font-weight="normal" font-family="Liberation Sans" transform="translate(328.2 453.9) scale(0.92 1)" stroke="#222" stroke-width="0.15">6</text><text x="0" y="0" font-size="8.3" text-anchor="middle" fill="#EA4535" font-weight="normal" font-family="Liberation Sans" transform="translate(342.5 432.2) scale(0.9 1)" stroke="#EA4535" stroke-width="0.05">0</text><text x="0" y="0" font-size="8.3" text-anchor="middle" fill="#36498C" font-weight="normal" font-family="Liberation Sans" transform="translate(342.5 442.2) scale(0.9 1)" stroke="#36498C" stroke-width="0.05">1</text><line x1="342.5" y1="444.6" x2="342.5" y2="446.8" stroke="#666666" stroke-width="0.8"/><text x="0" y="0" font-size="7.8" text-anchor="middle" fill="#222" font-weight="normal" font-family="Liberation Sans" transform="translate(342.5 453.9) scale(0.92 1)" stroke="#222" stroke-width="0.15">7</text><text x="0" y="0" font-size="8.3" text-anchor="middle" fill="#EA4535" font-weight="normal" font-family="Liberation Sans" transform="translate(356.8 432.2) scale(0.9 1)" stroke="#EA4535" stroke-width="0.05">0</text><text x="0" y="0" font-size="8.3" text-anchor="middle" fill="#36498C" font-weight="normal" font-family="Liberation Sans" transform="translate(356.8 442.2) scale(0.9 1)" stroke="#36498C" stroke-width="0.05">0</text><line x1="356.8" y1="444.6" x2="356.8" y2="446.8" stroke="#666666" stroke-width="0.8"/><text x="0" y="0" font-size="7.8" text-anchor="middle" fill="#222" font-weight="normal" font-family="Liberation Sans" transform="translate(356.8 453.9) scale(0.92 1)" stroke="#222" stroke-width="0.15">8</text><text x="0" y="0" font-size="8.3" text-anchor="middle" fill="#111" font-weight="normal" font-family="Liberation Sans" transform="translate(201.4 433.4) scale(0.93 1) rotate(-90)" stroke="#111" stroke-width="0.15">Risk</text><text x="299.6" y="463.2" font-size="8.55" text-anchor="middle" fill="#222" font-weight="normal" font-family="Liberation Sans" stroke="#222" stroke-width="0.15">Time(years)</text><text x="419.4" y="315.7" font-size="8.45" text-anchor="start" fill="#111" font-weight="bold" font-family="Liberation Serif" stroke="#111" stroke-width="0.15">Entire cohort</text><line x1="414.7" y1="317.3" x2="414.7" y2="408.8" stroke="#444" stroke-width="1"/><line x1="414.7" y1="408.8" x2="539.9" y2="408.8" stroke="#444" stroke-width="1"/><line x1="414.7" y1="321.4" x2="412.5" y2="321.4" stroke="#666666" stroke-width="0.8"/><text x="411.8" y="323.8" font-size="7.3" text-anchor="end" fill="#333" font-weight="normal" font-family="Liberation Sans" stroke="#333" stroke-width="0.15">1.00</text><line x1="414.7" y1="342.3" x2="412.5" y2="342.3" stroke="#666666" stroke-width="0.8"/><text x="411.8" y="344.7" font-size="7.3" text-anchor="end" fill="#333" font-weight="normal" font-family="Liberation Sans" stroke="#333" stroke-width="0.15">0.75</text><line x1="414.7" y1="363.2" x2="412.5" y2="363.2" stroke="#666666" stroke-width="0.8"/><text x="411.8" y="365.6" font-size="7.3" text-anchor="end" fill="#333" font-weight="normal" font-family="Liberation Sans" stroke="#333" stroke-width="0.15">0.50</text><line x1="414.7" y1="384.1" x2="412.5" y2="384.1" stroke="#666666" stroke-width="0.8"/><text x="411.8" y="386.5" font-size="7.3" text-anchor="end" fill="#333" font-weight="normal" font-family="Liberation Sans" stroke="#333" stroke-width="0.15">0.25</text><line x1="414.7" y1="405" x2="412.5" y2="405" stroke="#666666" stroke-width="0.8"/><text x="411.8" y="407.4" font-size="7.3" text-anchor="end" fill="#333" font-weight="normal" font-family="Liberation Sans" stroke="#333" stroke-width="0.15">0.00</text><line x1="420.3" y1="408.8" x2="420.3" y2="411" stroke="#666666" stroke-width="0.8"/><text x="0" y="0" font-size="7.8" text-anchor="middle" fill="#222" font-weight="normal" font-family="Liberation Sans" transform="translate(420.3 417.8) scale(0.92 1)" stroke="#222" stroke-width="0.15">0</text><line x1="434.55" y1="408.8" x2="434.55" y2="411" stroke="#666666" stroke-width="0.8"/><text x="0" y="0" font-size="7.8" text-anchor="middle" fill="#222" font-weight="normal" font-family="Liberation Sans" transform="translate(434.55 417.8) scale(0.92 1)" stroke="#222" stroke-width="0.15">1</text><line x1="448.8" y1="408.8" x2="448.8" y2="411" stroke="#666666" stroke-width="0.8"/><text x="0" y="0" font-size="7.8" text-anchor="middle" fill="#222" font-weight="normal" font-family="Liberation Sans" transform="translate(448.8 417.8) scale(0.92 1)" stroke="#222" stroke-width="0.15">2</text><line x1="463.05" y1="408.8" x2="463.05" y2="411" stroke="#666666" stroke-width="0.8"/><text x="0" y="0" font-size="7.8" text-anchor="middle" fill="#222" font-weight="normal" font-family="Liberation Sans" transform="translate(463.05 417.8) scale(0.92 1)" stroke="#222" stroke-width="0.15">3</text><line x1="477.3" y1="408.8" x2="477.3" y2="411" stroke="#666666" stroke-width="0.8"/><text x="0" y="0" font-size="7.8" text-anchor="middle" fill="#222" font-weight="normal" font-family="Liberation Sans" transform="translate(477.3 417.8) scale(0.92 1)" stroke="#222" stroke-width="0.15">4</text><line x1="491.55" y1="408.8" x2="491.55" y2="411" stroke="#666666" stroke-width="0.8"/><text x="0" y="0" font-size="7.8" text-anchor="middle" fill="#222" font-weight="normal" font-family="Liberation Sans" transform="translate(491.55 417.8) scale(0.92 1)" stroke="#222" stroke-width="0.15">5</text><line x1="505.8" y1="408.8" x2="505.8" y2="411" stroke="#666666" stroke-width="0.8"/><text x="0" y="0" font-size="7.8" text-anchor="middle" fill="#222" font-weight="normal" font-family="Liberation Sans" transform="translate(505.8 417.8) scale(0.92 1)" stroke="#222" stroke-width="0.15">6</text><line x1="520.05" y1="408.8" x2="520.05" y2="411" stroke="#666666" stroke-width="0.8"/><text x="0" y="0" font-size="7.8" text-anchor="middle" fill="#222" font-weight="normal" font-family="Liberation Sans" transform="translate(520.05 417.8) scale(0.92 1)" stroke="#222" stroke-width="0.15">7</text><line x1="534.3" y1="408.8" x2="534.3" y2="411" stroke="#666666" stroke-width="0.8"/><text x="0" y="0" font-size="7.8" text-anchor="middle" fill="#222" font-weight="normal" font-family="Liberation Sans" transform="translate(534.3 417.8) scale(0.92 1)" stroke="#222" stroke-width="0.15">8</text><text x="0" y="0" font-size="8.4" text-anchor="middle" fill="#111" font-weight="normal" font-family="Liberation Sans" transform="translate(379.7 363) scale(0.92 1) rotate(-90)" stroke="#111" stroke-width="0.15">Progression Free Interval</text><path d="M420.3 321.4 H425.4 V322.9 H426.13 V324.8 H426.87 V326.7 H427.6 V328.6 H429 V330.35 H430.4 V332.1 H431.85 V333.9 H433.3 V335.7 H434 V337.6 H434.7 V339.5 H435.4 V341.4 H436.15 V343.55 H436.9 V345.7 H438.3 V347.85 H439.7 V350 H440.4 V352.15 H441.1 V354.3 H441.48 V355.9 H441.85 V357.5 H442.23 V359.1 H442.6 V360.7 H443.65 V362.5 H444.7 V364.3 H446.85 V365.9 H449 V367.5 H452.6 V370 H456.15 V371.45 H459.7 V372.9 H469.7 V374.3 H470.43 V375.97 H471.17 V377.63 H471.9 V379.3 H482.7 V382.9 H528.4" stroke="#27397F" stroke-width="1.4" fill="none" stroke-linejoin="miter"/><path d="M420.3 321.4 H422.6 V323.6 H422.95 V325.38 H423.3 V327.15 H423.65 V328.93 H424 V330.7 H424.28 V332.42 H424.56 V334.14 H424.84 V335.86 H425.12 V337.58 H425.4 V339.3 H425.84 V341.02 H426.28 V342.74 H426.72 V344.46 H427.16 V346.18 H427.6 V347.9 H429 V349.65 H430.4 V351.4 H430.84 V353.12 H431.28 V354.84 H431.72 V356.56 H432.16 V358.28 H432.6 V360 H433.16 V361.72 H433.72 V363.44 H434.28 V365.16 H434.84 V366.88 H435.4 V368.6 H436.12 V370.38 H436.85 V372.15 H437.57 V373.93 H438.3 V375.7 H439.23 V377.6 H440.17 V379.5 H441.1 V381.4 H441.83 V383.02 H442.55 V384.65 H443.27 V386.27 H444 V387.9 H447.6 V389.3 H448.12 V390.9 H448.65 V392.5 H449.18 V394.1 H449.7 V395.7 H479.7 V404.3" stroke="#EC3D2A" stroke-width="1.4" fill="none" stroke-linejoin="miter"/><line x1="423" y1="319.4" x2="423" y2="323" stroke="#27397F" stroke-width="0.9"/><line x1="428" y1="326" x2="428" y2="329.6" stroke="#27397F" stroke-width="0.9"/><line x1="431" y1="330" x2="431" y2="333.6" stroke="#27397F" stroke-width="0.9"/><line x1="434" y1="334" x2="434" y2="337.6" stroke="#27397F" stroke-width="0.9"/><line x1="437" y1="343" x2="437" y2="346.6" stroke="#27397F" stroke-width="0.9"/><line x1="440" y1="348" x2="440" y2="351.6" stroke="#27397F" stroke-width="0.9"/><line x1="444" y1="362" x2="444" y2="365.6" stroke="#27397F" stroke-width="0.9"/><line x1="447" y1="365" x2="447" y2="368.6" stroke="#27397F" stroke-width="0.9"/><line x1="450" y1="366" x2="450" y2="369.6" stroke="#27397F" stroke-width="0.9"/><line x1="462" y1="371" x2="462" y2="374.6" stroke="#27397F" stroke-width="0.9"/><line x1="466" y1="371" x2="466" y2="374.6" stroke="#27397F" stroke-width="0.9"/><line x1="474" y1="377.3" x2="474" y2="380.9" stroke="#27397F" stroke-width="0.9"/><line x1="480.6" y1="377.3" x2="480.6" y2="380.9" stroke="#27397F" stroke-width="0.9"/><line x1="490.6" y1="380.9" x2="490.6" y2="384.5" stroke="#27397F" stroke-width="0.9"/><line x1="493.5" y1="380.9" x2="493.5" y2="384.5" stroke="#27397F" stroke-width="0.9"/><line x1="496.4" y1="380.9" x2="496.4" y2="384.5" stroke="#27397F" stroke-width="0.9"/><line x1="499.2" y1="380.9" x2="499.2" y2="384.5" stroke="#27397F" stroke-width="0.9"/><line x1="502" y1="380.9" x2="502" y2="384.5" stroke="#27397F" stroke-width="0.9"/><line x1="527.7" y1="380.9" x2="527.7" y2="384.5" stroke="#27397F" stroke-width="0.9"/><line x1="424" y1="329" x2="424" y2="332.6" stroke="#EC3D2A" stroke-width="0.9"/><line x1="427" y1="345" x2="427" y2="348.6" stroke="#EC3D2A" stroke-width="0.9"/><line x1="434" y1="365" x2="434" y2="368.6" stroke="#EC3D2A" stroke-width="0.9"/><line x1="438" y1="373" x2="438" y2="376.6" stroke="#EC3D2A" stroke-width="0.9"/><line x1="445" y1="386" x2="445" y2="389.6" stroke="#EC3D2A" stroke-width="0.9"/><line x1="448" y1="387.3" x2="448" y2="390.9" stroke="#EC3D2A" stroke-width="0.9"/><line x1="458" y1="393.7" x2="458" y2="397.3" stroke="#EC3D2A" stroke-width="0.9"/><line x1="470" y1="393.7" x2="470" y2="397.3" stroke="#EC3D2A" stroke-width="0.9"/><line x1="477.6" y1="328.3" x2="487.6" y2="328.3" stroke="#EC3D2A" stroke-width="1.6"/><line x1="482.6" y1="326.3" x2="482.6" y2="329.9" stroke="#EC3D2A" stroke-width="0.9"/><line x1="477.6" y1="337.6" x2="487.6" y2="337.6" stroke="#27397F" stroke-width="1.6"/><line x1="482.6" y1="335.6" x2="482.6" y2="339.2" stroke="#27397F" stroke-width="0.9"/><text x="491.6" y="330.3" font-size="5.6" text-anchor="start" fill="#222" font-weight="normal" font-family="Liberation Sans" stroke="#222" stroke-width="0.15">High risk</text><text x="491.6" y="339.6" font-size="5.6" text-anchor="start" fill="#222" font-weight="normal" font-family="Liberation Sans" stroke="#222" stroke-width="0.15">Low risk</text><text x="479.7" y="348.9" font-size="5.45" text-anchor="start" fill="#222" font-weight="normal" font-family="Liberation Sans" stroke="#222" stroke-width="0.15">Log-rank P&lt;0.001</text><text x="422.6" y="389.3" font-size="3.5" text-anchor="start" fill="#222" font-weight="normal" font-family="Liberation Sans" stroke="#222" stroke-width="0.07">p &lt; 0.0001</text><line x1="414.7" y1="423.6" x2="414.7" y2="444.6" stroke="#444" stroke-width="1"/><line x1="414.7" y1="444.6" x2="539.9" y2="444.6" stroke="#444" stroke-width="1"/><line x1="414.7" y1="429.2" x2="412.7" y2="429.2" stroke="#666666" stroke-width="0.8"/><line x1="414.7" y1="439.2" x2="412.7" y2="439.2" stroke="#666666" stroke-width="0.8"/><text x="0" y="0" font-size="8" text-anchor="end" fill="#EA4535" font-weight="normal" font-family="Liberation Sans" transform="translate(411.4 431.2) scale(0.9 1)" stroke="#EA4535" stroke-width="0.08">High risk</text><text x="0" y="0" font-size="8" text-anchor="end" fill="#36498C" font-weight="normal" font-family="Liberation Sans" transform="translate(411.4 441.2) scale(0.9 1)" stroke="#36498C" stroke-width="0.08">Low risk</text><text x="0" y="0" font-size="8.3" text-anchor="middle" fill="#EA4535" font-weight="normal" font-family="Liberation Sans" transform="translate(420.3 432.2) scale(0.9 1)" stroke="#EA4535" stroke-width="0.05">81</text><text x="0" y="0" font-size="8.3" text-anchor="middle" fill="#36498C" font-weight="normal" font-family="Liberation Sans" transform="translate(420.3 442.2) scale(0.9 1)" stroke="#36498C" stroke-width="0.05">97</text><line x1="420.3" y1="444.6" x2="420.3" y2="446.8" stroke="#666666" stroke-width="0.8"/><text x="0" y="0" font-size="7.8" text-anchor="middle" fill="#222" font-weight="normal" font-family="Liberation Sans" transform="translate(420.3 453.9) scale(0.92 1)" stroke="#222" stroke-width="0.15">0</text><text x="0" y="0" font-size="8.3" text-anchor="middle" fill="#EA4535" font-weight="normal" font-family="Liberation Sans" transform="translate(434.55 432.2) scale(0.9 1)" stroke="#EA4535" stroke-width="0.05">29</text><text x="0" y="0" font-size="8.3" text-anchor="middle" fill="#36498C" font-weight="normal" font-family="Liberation Sans" transform="translate(434.55 442.2) scale(0.9 1)" stroke="#36498C" stroke-width="0.05">61</text><line x1="434.55" y1="444.6" x2="434.55" y2="446.8" stroke="#666666" stroke-width="0.8"/><text x="0" y="0" font-size="7.8" text-anchor="middle" fill="#222" font-weight="normal" font-family="Liberation Sans" transform="translate(434.55 453.9) scale(0.92 1)" stroke="#222" stroke-width="0.15">1</text><text x="0" y="0" font-size="8.3" text-anchor="middle" fill="#EA4535" font-weight="normal" font-family="Liberation Sans" transform="translate(448.8 432.2) scale(0.9 1)" stroke="#EA4535" stroke-width="0.05">5</text><text x="0" y="0" font-size="8.3" text-anchor="middle" fill="#36498C" font-weight="normal" font-family="Liberation Sans" transform="translate(448.8 442.2) scale(0.9 1)" stroke="#36498C" stroke-width="0.05">22</text><line x1="448.8" y1="444.6" x2="448.8" y2="446.8" stroke="#666666" stroke-width="0.8"/><text x="0" y="0" font-size="7.8" text-anchor="middle" fill="#222" font-weight="normal" font-family="Liberation Sans" transform="translate(448.8 453.9) scale(0.92 1)" stroke="#222" stroke-width="0.15">2</text><text x="0" y="0" font-size="8.3" text-anchor="middle" fill="#EA4535" font-weight="normal" font-family="Liberation Sans" transform="translate(463.05 432.2) scale(0.9 1)" stroke="#EA4535" stroke-width="0.05">2</text><text x="0" y="0" font-size="8.3" text-anchor="middle" fill="#36498C" font-weight="normal" font-family="Liberation Sans" transform="translate(463.05 442.2) scale(0.9 1)" stroke="#36498C" stroke-width="0.05">15</text><line x1="463.05" y1="444.6" x2="463.05" y2="446.8" stroke="#666666" stroke-width="0.8"/><text x="0" y="0" font-size="7.8" text-anchor="middle" fill="#222" font-weight="normal" font-family="Liberation Sans" transform="translate(463.05 453.9) scale(0.92 1)" stroke="#222" stroke-width="0.15">3</text><text x="0" y="0" font-size="8.3" text-anchor="middle" fill="#EA4535" font-weight="normal" font-family="Liberation Sans" transform="translate(477.3 432.2) scale(0.9 1)" stroke="#EA4535" stroke-width="0.05">1</text><text x="0" y="0" font-size="8.3" text-anchor="middle" fill="#36498C" font-weight="normal" font-family="Liberation Sans" transform="translate(477.3 442.2) scale(0.9 1)" stroke="#36498C" stroke-width="0.05">8</text><line x1="477.3" y1="444.6" x2="477.3" y2="446.8" stroke="#666666" stroke-width="0.8"/><text x="0" y="0" font-size="7.8" text-anchor="middle" fill="#222" font-weight="normal" font-family="Liberation Sans" transform="translate(477.3 453.9) scale(0.92 1)" stroke="#222" stroke-width="0.15">4</text><text x="0" y="0" font-size="8.3" text-anchor="middle" fill="#EA4535" font-weight="normal" font-family="Liberation Sans" transform="translate(491.55 432.2) scale(0.9 1)" stroke="#EA4535" stroke-width="0.05">0</text><text x="0" y="0" font-size="8.3" text-anchor="middle" fill="#36498C" font-weight="normal" font-family="Liberation Sans" transform="translate(491.55 442.2) scale(0.9 1)" stroke="#36498C" stroke-width="0.05">5</text><line x1="491.55" y1="444.6" x2="491.55" y2="446.8" stroke="#666666" stroke-width="0.8"/><text x="0" y="0" font-size="7.8" text-anchor="middle" fill="#222" font-weight="normal" font-family="Liberation Sans" transform="translate(491.55 453.9) scale(0.92 1)" stroke="#222" stroke-width="0.15">5</text><text x="0" y="0" font-size="8.3" text-anchor="middle" fill="#EA4535" font-weight="normal" font-family="Liberation Sans" transform="translate(505.8 432.2) scale(0.9 1)" stroke="#EA4535" stroke-width="0.05">0</text><text x="0" y="0" font-size="8.3" text-anchor="middle" fill="#36498C" font-weight="normal" font-family="Liberation Sans" transform="translate(505.8 442.2) scale(0.9 1)" stroke="#36498C" stroke-width="0.05">1</text><line x1="505.8" y1="444.6" x2="505.8" y2="446.8" stroke="#666666" stroke-width="0.8"/><text x="0" y="0" font-size="7.8" text-anchor="middle" fill="#222" font-weight="normal" font-family="Liberation Sans" transform="translate(505.8 453.9) scale(0.92 1)" stroke="#222" stroke-width="0.15">6</text><text x="0" y="0" font-size="8.3" text-anchor="middle" fill="#EA4535" font-weight="normal" font-family="Liberation Sans" transform="translate(520.05 432.2) scale(0.9 1)" stroke="#EA4535" stroke-width="0.05">0</text><text x="0" y="0" font-size="8.3" text-anchor="middle" fill="#36498C" font-weight="normal" font-family="Liberation Sans" transform="translate(520.05 442.2) scale(0.9 1)" stroke="#36498C" stroke-width="0.05">1</text><line x1="520.05" y1="444.6" x2="520.05" y2="446.8" stroke="#666666" stroke-width="0.8"/><text x="0" y="0" font-size="7.8" text-anchor="middle" fill="#222" font-weight="normal" font-family="Liberation Sans" transform="translate(520.05 453.9) scale(0.92 1)" stroke="#222" stroke-width="0.15">7</text><text x="0" y="0" font-size="8.3" text-anchor="middle" fill="#EA4535" font-weight="normal" font-family="Liberation Sans" transform="translate(534.3 432.2) scale(0.9 1)" stroke="#EA4535" stroke-width="0.05">0</text><text x="0" y="0" font-size="8.3" text-anchor="middle" fill="#36498C" font-weight="normal" font-family="Liberation Sans" transform="translate(534.3 442.2) scale(0.9 1)" stroke="#36498C" stroke-width="0.05">0</text><line x1="534.3" y1="444.6" x2="534.3" y2="446.8" stroke="#666666" stroke-width="0.8"/><text x="0" y="0" font-size="7.8" text-anchor="middle" fill="#222" font-weight="normal" font-family="Liberation Sans" transform="translate(534.3 453.9) scale(0.92 1)" stroke="#222" stroke-width="0.15">8</text><text x="0" y="0" font-size="8.3" text-anchor="middle" fill="#111" font-weight="normal" font-family="Liberation Sans" transform="translate(379.6 433.4) scale(0.93 1) rotate(-90)" stroke="#111" stroke-width="0.15">Risk</text><text x="477.3" y="463.2" font-size="8.55" text-anchor="middle" fill="#222" font-weight="normal" font-family="Liberation Sans" stroke="#222" stroke-width="0.15">Time(years)</text><text x="4" y="157" font-size="16.3" text-anchor="start" fill="#000" font-weight="normal" font-family="Liberation Sans">D</text><text x="185" y="157" font-size="16.3" text-anchor="start" fill="#000" font-weight="normal" font-family="Liberation Sans">E</text><text x="360.8" y="157" font-size="16.3" text-anchor="start" fill="#000" font-weight="normal" font-family="Liberation Sans">F</text><text x="2.75" y="308" font-size="16.3" text-anchor="start" fill="#000" font-weight="normal" font-family="Liberation Sans">G</text><text x="185" y="308" font-size="16.3" text-anchor="start" fill="#000" font-weight="normal" font-family="Liberation Sans">H</text><rect x="368.1" y="297.1" width="2.3" height="11.1" fill="#000" stroke="none" stroke-width="1"/></svg></body></html>
